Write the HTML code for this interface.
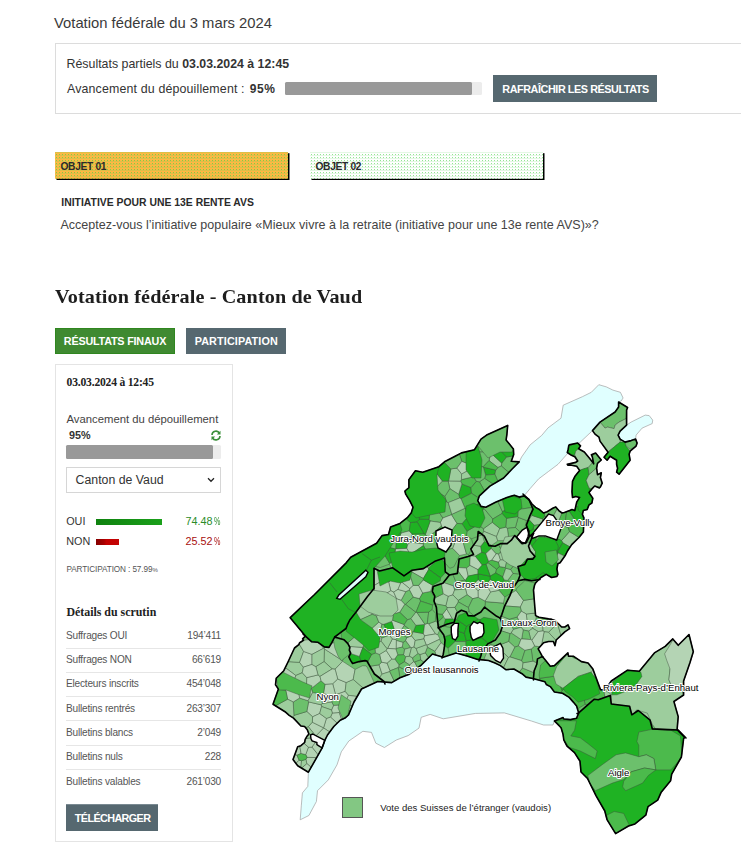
<!DOCTYPE html>
<html><head><meta charset="utf-8">
<style>
*{margin:0;padding:0;box-sizing:border-box}
html,body{width:741px;height:847px;overflow:hidden;background:#fff}
body{position:relative;font-family:"Liberation Sans",sans-serif;color:#333}
.a{position:absolute;white-space:nowrap;line-height:1}
.b{font-weight:bold}
.btn{position:absolute;color:#fff;font-weight:bold;text-align:center;white-space:nowrap}
.dot-y{background-color:#f7b944;background-image:radial-gradient(circle at 1px 1px,#8ccf52 0.9px,transparent 1px);background-size:3px 3px}
.dot-w{background-color:#fff;background-image:radial-gradient(circle at 1px 1px,#a8e2a8 0.9px,transparent 1px);background-size:3px 3px}
.serif{font-family:"Liberation Serif",serif}
.row{position:absolute;left:66px;width:155px;border-bottom:1px solid #e6e6e6;font-size:10.1px;color:#555;height:24px;letter-spacing:-0.2px}
.row span{position:absolute;line-height:1}
</style></head><body>

<!-- header -->
<div class="a" style="left:54px;top:16.2px;font-size:14.8px;color:#3a3a3a">Votation fédérale du 3 mars 2024</div>
<div style="position:absolute;left:55px;top:43px;width:720px;height:71px;border:1px solid #dcdcdc"></div>
<div class="a" style="left:66.5px;top:58.3px;font-size:12.4px;color:#333">Résultats partiels du <span class="b" style="font-size:12.33px">03.03.2024 à 12:45</span></div>
<div class="a" style="left:67px;top:82.5px;font-size:12.4px;color:#333;letter-spacing:0.15px">Avancement du dépouillement :&nbsp;<span class="b" style="font-size:12px;letter-spacing:0.6px;margin-left:1.4px">95%</span></div>
<div style="position:absolute;left:285px;top:82px;width:197px;height:13px;background:#ececec;border-radius:1.5px"></div>
<div style="position:absolute;left:285px;top:82px;width:187px;height:13px;background:#999;border-radius:1.5px"></div>
<div style="position:absolute;left:493px;top:75px;width:164px;height:27px;background:#566870"></div><div class="a b" style="left:502.3px;top:83.86px;font-size:10.8px;color:#fff;letter-spacing:-0.42px">RAFRAÎCHIR LES RÉSULTATS</div>

<!-- tabs -->
<svg style="position:absolute;left:0;top:0" width="741" height="200" viewBox="0 0 741 200">
<defs>
<pattern id="py" width="3" height="3" patternUnits="userSpaceOnUse" x="1" y="0"><rect width="3" height="3" fill="#fdb843"/><rect x="1" y="1" width="1" height="1" fill="#84cc44"/><rect x="0" y="2" width="3" height="1" fill="#dcbf48"/></pattern>
<pattern id="pw" width="3" height="3" patternUnits="userSpaceOnUse" x="1" y="0"><rect width="3" height="3" fill="#fff"/><rect x="1" y="1" width="1" height="1" fill="#92e692"/><rect x="0" y="2" width="3" height="1" fill="#e4f8e4"/></pattern>
<filter id="sh" x="-5%" y="-20%" width="110%" height="140%"><feGaussianBlur stdDeviation="0.4"/></filter>
</defs>
<rect x="56.5" y="153.2" width="233" height="26.8" fill="#000" filter="url(#sh)"/>
<rect x="55" y="152" width="233" height="26.8" fill="url(#py)"/>
<rect x="311.5" y="153.2" width="233" height="26.8" fill="#000" filter="url(#sh)"/>
<rect x="310" y="152" width="233" height="26.8" fill="url(#pw)"/>
</svg>
<div class="a b" style="left:60.5px;top:162.3px;font-size:10.2px;color:#2a2a2a;letter-spacing:-0.3px">OBJET 01</div>
<div class="a b" style="left:315.5px;top:162.3px;font-size:10.2px;color:#2a2a2a;letter-spacing:-0.3px">OBJET 02</div>

<div class="a b" style="left:61.3px;top:198px;font-size:10.4px;color:#2a2a2a">INITIATIVE POUR UNE 13E RENTE AVS</div>
<div class="a" style="left:60.5px;top:219.3px;font-size:12.52px;color:#444">Acceptez-vous l’initiative populaire «Mieux vivre à la retraite (initiative pour une 13e rente AVS)»?</div>

<!-- section title -->
<div class="a b serif" style="left:54.5px;top:286.5px;font-size:19px;color:#1e1e1e;letter-spacing:0.1px;transform:scaleX(1.062);transform-origin:0 0">Votation fédérale - Canton de Vaud</div>
<div style="position:absolute;left:55px;top:328px;width:120px;height:26px;background:#3f8a31;border:1px solid #2f861f"></div><div class="a b" style="left:63.8px;top:335.86px;font-size:10.8px;color:#fff;letter-spacing:-0.2px">RÉSULTATS FINAUX</div>
<div style="position:absolute;left:186px;top:328px;width:100px;height:26px;background:#566870"></div><div class="a b" style="left:194.7px;top:335.86px;font-size:10.8px;color:#fff;letter-spacing:0.12px">PARTICIPATION</div>

<!-- side panel -->
<div style="position:absolute;left:55px;top:364px;width:178px;height:478px;border:1px solid #e4e4e4"></div>
<div class="a b serif" style="left:66.6px;top:377.3px;font-size:11.6px;color:#222;letter-spacing:-0.2px">03.03.2024 à 12:45</div>
<div class="a" style="left:66.5px;top:414.3px;font-size:11.3px;color:#444">Avancement du dépouillement</div>
<div class="a b" style="left:69px;top:430.1px;font-size:10.8px;color:#333">95%</div>
<svg style="position:absolute;left:210px;top:430px" width="12" height="11" viewBox="0 0 12 11"><path d="M2 5 A4 4 0 0 1 9.5 3.2" fill="none" stroke="#3a8f3a" stroke-width="1.6"/><path d="M10.5 0.8 L10.5 4.5 L6.8 4.5 Z" fill="#3a8f3a"/><path d="M10 6 A4 4 0 0 1 2.5 7.8" fill="none" stroke="#3a8f3a" stroke-width="1.6"/><path d="M1.5 10.2 L1.5 6.5 L5.2 6.5 Z" fill="#3a8f3a"/></svg>
<div style="position:absolute;left:66px;top:445px;width:155px;height:14px;background:#ececec;border-radius:1.5px"></div>
<div style="position:absolute;left:66px;top:445px;width:147px;height:14px;background:#999;border-radius:1.5px"></div>
<div style="position:absolute;left:66px;top:467px;width:155px;height:26px;border:1px solid #d6d6d6"></div>
<div class="a" style="left:75.6px;top:473.8px;font-size:12.3px;color:#333">Canton de Vaud</div>
<svg style="position:absolute;left:206.6px;top:477px" width="8" height="6" viewBox="0 0 8 6"><path d="M1 1.3 L4 4.3 L7 1.3" fill="none" stroke="#222" stroke-width="1.25"/></svg>

<div class="a" style="left:66.2px;top:516.3px;font-size:10.8px;color:#333">OUI</div>
<div style="position:absolute;left:96px;top:519px;width:66px;height:6px;background:linear-gradient(90deg,#0f820f,#148f14 45%,#1aa01a)"></div>
<div class="a" style="left:185.5px;top:516.3px;font-size:10.8px;color:#2a8c2a">74.48<span style="display:inline-block;font-size:10px;margin-left:1.2px;transform:scaleX(0.72);transform-origin:0 0">%</span></div>
<div class="a" style="left:66.2px;top:536px;font-size:10.8px;color:#333">NON</div>
<div style="position:absolute;left:96px;top:539px;width:23px;height:6px;background:linear-gradient(90deg,#850000,#a80000 35%,#c20000 45%,#c40404)"></div>
<div class="a" style="left:185.5px;top:536px;font-size:10.8px;color:#a80e0e">25.52<span style="display:inline-block;font-size:10px;margin-left:1.2px;transform:scaleX(0.72);transform-origin:0 0">%</span></div>
<div class="a" style="left:66.4px;top:566px;font-size:8.2px;color:#555;letter-spacing:-0.1px">PARTICIPATION : 57.99<span style="font-size:6px">%</span></div>

<div class="a b serif" style="left:66.4px;top:607px;font-size:11.9px;color:#222">Détails du scrutin</div>
<div class="row" style="top:624.5px"><span style="left:0;top:6.3px">Suffrages OUI</span><span style="right:0;top:6.3px">194’411</span></div>
<div class="row" style="top:648.8px"><span style="left:0;top:6.3px">Suffrages NON</span><span style="right:0;top:6.3px">66’619</span></div>
<div class="row" style="top:673.1px"><span style="left:0;top:6.3px">Electeurs inscrits</span><span style="right:0;top:6.3px">454’048</span></div>
<div class="row" style="top:697.4px"><span style="left:0;top:6.3px">Bulletins rentrés</span><span style="right:0;top:6.3px">263’307</span></div>
<div class="row" style="top:721.7px"><span style="left:0;top:6.3px">Bulletins blancs</span><span style="right:0;top:6.3px">2’049</span></div>
<div class="row" style="top:746px"><span style="left:0;top:6.3px">Bulletins nuls</span><span style="right:0;top:6.3px">228</span></div>
<div class="row" style="top:770.3px;border-bottom:none"><span style="left:0;top:6.3px">Bulletins valables</span><span style="right:0;top:6.3px">261’030</span></div>
<div style="position:absolute;left:66px;top:804px;width:92px;height:27px;background:#566870;border-top:1px solid #7a8a92"></div><div class="a b" style="left:74.8px;top:812.86px;font-size:10.8px;color:#fff;letter-spacing:-0.6px">TÉLÉCHARGER</div>

<!-- MAP -->
<svg id="map" style="position:absolute;left:0;top:0" width="741" height="847" viewBox="0 0 741 847">
<polygon fill="#e0ffff" stroke="#a0a0a0" stroke-width="0.7" points="578.7,712.9 576.6,706.1 573.3,702.1 569.2,697.4 562.5,693.3 554.4,692.0 550.3,686.6 546.3,684.5 545.0,681.8 532.8,678.5 526.0,677.1 522.0,673.7 513.9,669.0 505.8,669.7 500.4,665.6 495.0,663.0 488.5,660.5 477.7,659.4 467.0,656.1 456.1,652.9 443.2,657.2 432.4,654.0 421.6,664.8 408.6,674.5 400.0,677.7 391.7,682.6 377.7,681.5 361.5,689.0 354.0,702.0 348.5,715.0 345.0,718.1 340.2,720.2 333.8,726.5 327.5,735.0 324.8,740.4 322.2,747.8 308.4,772.2 307.8,786.4 302.4,792.9 301.3,805.8 300.2,819.8 308.9,815.5 316.4,801.5 317.5,790.7 328.3,779.9 337.0,764.8 341.3,751.8 348.8,741.0 362.9,731.3 371.5,732.4 375.8,743.2 384.4,747.5 396.3,740.0 408.2,735.6 419.0,728.1 421.2,717.3 430.2,714.4 443.2,718.8 475.6,713.4 504.4,712.9 531.4,721.0 543.6,725.0 553.0,725.0 554.4,721.0 563.1,717.6 563.8,719.0 570.6,719.6 576.6,718.3"/>
<polygon fill="#e0ffff" stroke="#a0a0a0" stroke-width="0.7" points="519.2,461.9 521.6,457.0 530.1,444.9 541.6,435.5 548.0,427.9 561.0,418.2 563.2,405.2 582.6,396.6 591.3,392.3 598.8,384.7 606.4,386.9 612.9,390.1 620.4,392.3 623.1,398.0 621.1,401.0 618.6,402.0 618.6,407.0 615.1,412.0 600.0,422.1 592.5,430.6 580.5,441.9 567.7,453.4 558.0,464.3 548.3,471.6 538.6,478.9 530.1,488.6 524.0,495.9 519.2,497.1 514.3,495.3 506.9,497.5 495.5,502.3 485.8,507.2 481.0,506.4 477.7,500.7 479.4,495.8 489.9,486.1 503.6,478.0 511.9,469.2"/>
<polygon fill="#e0ffff" stroke="#a0a0a0" stroke-width="0.7" points="618.1,435.1 620.1,431.1 626.6,425.1 631.1,422.1 645.2,415.1 649.2,415.6 652.7,420.1 652.2,423.6 642.1,428.1 636.1,435.1 635.6,439.1 630.1,442.1 625.1,442.1 620.1,439.1"/>
<polygon fill="#6cc06c" points="290.2,617.7 314.0,595.0 346.4,562.6 350.7,557.2 376.6,543.2 382.0,535.6 388.5,534.5 390.6,527.0 400.0,523.4 407.3,517.7 411.3,512.8 413.0,507.2 409.7,500.7 405.7,494.2 404.9,491.0 408.9,487.7 408.9,479.6 415.4,470.7 422.7,472.3 438.9,466.7 444.5,461.8 455.1,456.2 461.5,452.9 474.5,449.7 481.0,439.1 486.6,435.1 507.7,425.4 506.9,434.3 506.1,440.0 513.4,448.9 513.7,454.6 511.3,461.3 519.2,461.9 511.9,469.2 503.6,478.0 489.9,486.1 479.4,495.8 477.7,500.7 481.0,506.4 485.8,507.2 495.5,502.3 506.9,497.5 514.3,495.3 519.2,497.1 524.0,495.9 528.9,499.5 532.0,504.0 535.6,507.4 539.8,509.8 543.5,513.0 547.1,511.7 553.2,508.0 555.8,506.9 558.8,510.6 562.0,513.0 564.4,512.5 569.6,510.6 572.0,509.6 574.8,510.6 576.7,502.1 579.6,497.4 575.8,496.4 572.5,497.4 572.0,491.7 572.5,481.3 574.8,476.6 579.6,470.4 576.7,466.2 571.5,465.2 567.8,465.2 567.3,464.3 575.8,462.4 577.7,461.0 574.8,456.7 571.5,455.3 567.3,452.5 568.2,449.2 568.7,445.9 569.2,444.9 577.7,443.0 580.5,445.9 578.6,448.7 584.3,452.0 589.5,458.2 592.8,462.4 593.7,463.8 592.3,456.7 591.4,454.8 595.6,453.0 601.3,460.0 597.5,463.3 596.6,468.1 597.5,474.7 601.3,472.8 600.4,477.5 602.2,483.2 600.4,487.0 599.4,487.9 594.7,486.0 591.9,488.9 589.0,492.6 592.8,498.3 591.9,503.0 589.0,504.9 587.1,509.6 583.3,510.6 582.4,514.4 584.0,518.1 583.4,531.9 579.2,537.2 571.7,544.6 567.5,551.0 565.4,555.2 560.1,562.7 557.9,563.7 556.9,569.0 557.9,574.4 556.9,576.5 551.6,577.5 546.2,574.4 541.0,577.5 537.7,580.7 535.6,582.9 534.6,585.0 533.5,590.0 534.8,606.7 535.6,615.6 538.9,617.2 548.6,618.9 551.9,619.4 555.0,620.5 558.4,623.8 561.6,627.0 564.8,627.0 568.0,624.8 569.6,628.6 564.8,631.8 556.2,640.0 555.0,645.6 553.4,641.5 548.6,641.5 543.6,642.7 538.2,648.8 542.2,656.2 544.9,659.6 550.3,666.3 554.4,665.6 567.9,652.8 568.5,656.2 573.3,656.2 581.4,661.6 588.1,663.0 592.9,669.1 596.1,677.7 600.5,689.6 605.0,690.0 611.3,681.0 627.5,670.2 639.3,671.3 654.4,652.9 665.2,646.4 672.8,638.9 678.2,645.3 689.0,634.5 693.3,651.8 690.0,662.6 683.6,681.0 683.6,695.0 673.9,701.5 678.2,716.6 677.1,729.6 684.7,737.5 683.6,738.6 681.4,757.0 671.7,774.2 670.6,780.7 661.0,792.6 657.7,800.1 648.0,806.6 645.8,815.2 635.0,823.9 628.5,826.0 615.6,833.6 607.0,819.6 604.8,811.0 596.1,795.8 587.5,778.5 581.0,772.0 580.0,761.3 574.5,752.6 567.0,746.1 563.8,740.0 563.1,734.5 561.1,727.7 556.4,723.0 554.4,721.0 563.1,717.6 563.8,719.0 570.6,719.6 576.6,718.3 578.7,712.9 576.6,706.1 573.3,702.1 569.2,697.4 562.5,693.3 554.4,692.0 550.3,686.6 546.3,684.5 545.0,681.8 532.8,678.5 526.0,677.1 522.0,673.7 513.9,669.0 505.8,669.7 500.4,665.6 495.0,663.0 488.5,660.5 477.7,659.4 467.0,656.1 456.1,652.9 443.2,657.2 432.4,654.0 421.6,664.8 408.6,674.5 400.0,677.7 391.7,682.6 377.7,681.5 361.5,689.0 354.0,702.0 348.5,715.0 345.0,718.1 340.2,720.2 333.8,726.5 327.5,735.0 324.8,740.4 322.2,747.8 308.4,772.2 297.7,765.8 293.0,759.5 297.7,746.7 300.9,745.7 304.6,742.5 305.2,739.3 306.8,736.6 308.9,734.0 307.3,729.7 304.6,726.5 300.9,726.0 293.5,718.1 289.2,715.4 285.0,711.7 273.0,704.2 278.4,689.1 275.5,684.8 276.2,678.3 283.8,670.7 288.0,662.0 294.5,648.0 298.8,644.6 299.7,642.7 303.5,640.3 302.6,638.9 305.4,636.1"/>
<polygon fill="#6cc06c" points="618.6,402.0 627.6,407.5 626.6,410.0 626.6,425.1 620.1,431.1 618.1,435.1 620.1,439.1 625.1,442.1 631.1,440.6 635.6,439.1 637.1,443.1 636.1,446.1 630.1,451.2 629.1,454.2 630.1,460.2 619.1,474.2 616.6,472.2 617.6,468.2 616.6,464.2 616.6,460.2 610.1,456.2 607.1,460.2 604.0,457.2 608.1,452.2 600.0,441.1 599.0,437.1 595.0,434.1 592.5,430.6 600.0,422.1 615.1,412.0 618.6,407.0"/>
<g stroke="#3c4c3c" stroke-width="0.55" stroke-opacity="0.8" stroke-linejoin="round">
<polygon fill="#1fb223" points="424.8,508.4 425.8,501.1 420.8,497.4 411.2,503.6 413.0,507.2 412.9,507.6 418.7,511.0 424.8,508.4"/>
<polygon fill="#6cc06c" points="436.9,508.9 429.8,512.3 429.0,519.4 430.2,521.0 440.4,522.5 442.9,518.0 436.9,508.9"/>
<polygon fill="#6cc06c" points="448.3,502.6 446.4,501.6 437.7,505.9 436.9,508.9 442.9,518.0 451.6,514.7 451.8,514.3 448.3,502.6"/>
<polygon fill="#b4d4b4" points="442.9,518.0 440.4,522.5 441.4,526.2 443.1,527.9 445.0,527.0 452.0,530.0 452.0,530.3 457.0,523.4 451.6,514.7 442.9,518.0"/>
<polygon fill="#b4d4b4" points="375.3,566.4 372.9,556.4 359.0,557.1 361.1,569.2 363.9,571.9 365.8,570.2 367.4,571.7 375.3,566.4"/>
<polygon fill="#1fb223" points="471.0,487.5 461.9,483.9 458.6,494.3 459.7,498.0 461.0,498.7 471.5,493.3 471.0,487.5"/>
<polygon fill="#6cc06c" points="452.6,548.2 447.9,549.3 446.0,552.0 443.0,550.5 441.6,550.8 439.7,554.4 440.1,557.4 441.5,559.0 444.5,558.0 444.8,562.7 449.5,568.1 450.4,568.1 453.9,566.8 459.6,555.5 452.6,548.2"/>
<polygon fill="#9dcd9d" points="441.4,526.2 440.4,522.5 430.2,521.0 425.4,534.4 426.7,536.3 429.5,536.5 441.4,526.2"/>
<polygon fill="#9dcd9d" points="402.3,560.9 394.2,560.2 389.7,563.5 389.4,564.2 391.6,568.1 392.7,567.8 402.8,575.0 407.0,572.9 402.3,560.9"/>
<polygon fill="#9dcd9d" points="434.9,489.1 442.5,481.1 433.1,468.7 432.3,469.0 428.0,470.5 427.6,486.1 434.9,489.1"/>
<polygon fill="#6cc06c" points="389.7,563.5 382.3,551.1 373.4,554.9 372.9,556.4 375.3,566.4 380.3,567.5 389.4,564.2 389.7,563.5"/>
<polygon fill="#6cc06c" points="414.2,568.4 423.5,564.7 422.5,559.1 410.4,554.5 410.1,554.5 409.9,554.8 414.2,568.4"/>
<polygon fill="#4cba4c" points="301.4,616.8 294.6,613.5 290.2,617.7 299.9,629.4 301.5,627.8 301.4,616.8"/>
<polygon fill="#4cba4c" points="409.3,530.9 410.5,522.5 406.1,518.7 400.0,523.4 396.3,524.8 401.1,533.1 409.3,530.9"/>
<polygon fill="#9dcd9d" points="501.3,466.0 501.9,463.2 491.8,453.9 490.5,454.0 489.0,460.6 497.9,467.5 501.3,466.0"/>
<polygon fill="#9dcd9d" points="317.0,592.0 322.0,603.1 330.9,601.7 334.0,597.3 331.7,593.1 318.4,590.6 317.0,592.0"/>
<polygon fill="#b4d4b4" points="354.6,580.5 363.9,571.9 361.1,569.2 344.4,569.2 346.5,580.2 354.6,580.5"/>
<polygon fill="#6cc06c" points="520.4,532.3 522.3,530.1 524.7,528.6 526.5,520.5 518.2,517.3 515.4,527.5 520.4,532.3"/>
<polygon fill="#4cba4c" points="518.1,509.6 531.9,507.5 532.2,507.1 528.9,499.5 524.0,495.9 520.1,496.9 516.4,507.2 518.1,509.6"/>
<polygon fill="#9dcd9d" points="483.5,528.7 483.7,531.3 496.5,536.6 499.8,528.4 492.3,522.3 483.5,528.7"/>
<polygon fill="#6cc06c" points="483.5,528.7 478.2,524.6 466.9,531.2 466.5,536.2 471.5,538.8 477.8,536.5 478.2,531.5 482.4,534.7 483.7,531.3 483.5,528.7"/>
<polygon fill="#6cc06c" points="334.0,597.3 330.9,601.7 334.2,612.9 337.0,614.7 346.4,606.7 345.9,603.8 340.0,599.3 340.0,599.3 336.7,598.3 337.3,597.3 334.0,597.3"/>
<polygon fill="#6cc06c" points="518.1,509.6 517.7,516.6 518.2,517.3 526.5,520.5 528.3,519.9 530.1,515.3 531.9,511.6 531.9,507.5 518.1,509.6"/>
<polygon fill="#4cba4c" points="468.2,464.0 475.6,459.7 476.2,452.1 474.2,449.8 461.5,452.9 459.3,454.0 461.8,461.4 468.2,464.0"/>
<polygon fill="#6cc06c" points="320.7,605.3 324.9,614.5 334.2,612.9 330.9,601.7 322.0,603.1 320.7,605.3"/>
<polygon fill="#4cba4c" points="382.3,551.1 383.9,547.3 377.9,541.3 376.6,543.2 369.8,546.9 373.4,554.9 382.3,551.1"/>
<polygon fill="#1fb223" points="495.8,470.1 483.3,467.1 485.6,475.1 494.9,474.3 495.8,470.1"/>
<polygon fill="#4cba4c" points="327.1,627.7 321.3,620.5 312.2,625.9 316.3,635.9 327.1,627.7"/>
<polygon fill="#4cba4c" points="425.4,534.4 424.0,533.7 412.1,534.0 410.4,542.2 423.4,544.0 426.7,536.3 425.4,534.4"/>
<polygon fill="#b4d4b4" points="462.2,538.8 456.1,539.3 452.6,548.2 459.6,555.5 466.5,554.0 462.2,538.8"/>
<polygon fill="#6cc06c" points="505.7,527.2 507.4,528.4 515.4,527.5 518.2,517.3 517.7,516.6 506.5,518.3 505.7,527.2"/>
<polygon fill="#4cba4c" points="441.4,526.2 429.5,536.5 436.1,540.4 436.0,540.0 436.0,531.0 443.1,527.9 441.4,526.2"/>
<polygon fill="#1fb223" points="396.3,538.4 395.6,548.9 406.8,548.4 407.7,544.6 399.7,536.5 396.3,538.4"/>
<polygon fill="#1fb223" points="499.6,449.7 491.8,453.9 501.9,463.2 506.7,457.0 499.6,449.7"/>
<polygon fill="#4cba4c" points="329.7,579.3 324.0,585.0 318.4,590.6 331.7,593.1 333.3,583.5 329.7,579.3"/>
<polygon fill="#1fb223" points="420.6,489.0 418.4,487.8 408.2,488.3 404.9,491.0 405.7,494.2 409.7,500.7 411.2,503.6 420.8,497.4 420.6,489.0"/>
<polygon fill="#1fb223" points="424.0,533.7 425.4,534.4 430.2,521.0 429.0,519.4 419.4,519.0 417.0,521.7 424.0,533.7"/>
<polygon fill="#9dcd9d" points="443.0,550.5 441.3,549.7 441.6,550.8 443.0,550.5"/>
<polygon fill="#9dcd9d" points="452.6,548.2 456.1,539.3 451.7,534.4 451.0,545.0 447.9,549.3 452.6,548.2"/>
<polygon fill="#6cc06c" points="479.4,481.8 484.6,491.0 489.9,486.1 493.3,484.1 484.6,478.3 479.4,481.8"/>
<polygon fill="#6cc06c" points="328.3,628.0 327.1,627.7 316.3,635.9 315.7,638.7 319.8,643.7 324.3,646.9 325.8,647.1 329.6,643.9 328.3,628.0"/>
<polygon fill="#6cc06c" points="451.6,514.7 457.0,523.4 462.1,523.8 468.0,516.9 465.5,508.5 465.0,508.2 451.8,514.3 451.6,514.7"/>
<polygon fill="#4cba4c" points="299.9,629.4 305.4,636.1 309.2,639.6 315.7,638.7 316.3,635.9 312.2,625.9 310.4,625.3 301.5,627.8 299.9,629.4"/>
<polygon fill="#1fb223" points="312.2,625.9 321.3,620.5 321.3,619.3 312.8,613.2 308.9,614.9 310.4,625.3 312.2,625.9"/>
<polygon fill="#1fb223" points="301.4,616.8 301.5,627.8 310.4,625.3 308.9,614.9 307.1,614.3 301.4,616.8"/>
<polygon fill="#4cba4c" points="420.6,489.0 427.6,486.1 428.0,470.5 422.7,472.3 416.2,470.9 418.4,487.8 420.6,489.0"/>
<polygon fill="#4cba4c" points="476.4,481.3 471.0,487.5 471.5,493.3 478.6,498.0 479.4,495.8 484.6,491.0 479.4,481.8 476.4,481.3"/>
<polygon fill="#6cc06c" points="466.5,536.2 462.2,538.8 466.5,554.0 468.8,554.5 471.1,549.7 470.8,549.0 472.9,546.1 473.3,545.1 471.5,538.8 466.5,536.2"/>
<polygon fill="#6cc06c" points="492.8,519.0 483.9,508.3 476.6,519.9 478.2,524.6 483.5,528.7 492.3,522.3 492.8,519.0"/>
<polygon fill="#b4d4b4" points="385.8,546.6 389.8,536.6 388.3,534.5 382.0,535.6 377.9,541.3 383.9,547.3 385.8,546.6"/>
<polygon fill="#4cba4c" points="308.9,614.9 312.8,613.2 314.9,607.4 307.5,601.2 306.3,602.4 303.5,605.0 307.1,614.3 308.9,614.9"/>
<polygon fill="#b4d4b4" points="412.1,534.0 409.3,530.9 401.1,533.1 399.7,536.5 407.7,544.6 410.4,542.2 412.1,534.0"/>
<polygon fill="#6cc06c" points="439.7,554.4 441.6,550.8 441.3,549.7 438.0,548.0 436.1,540.4 429.5,536.5 426.7,536.3 423.4,544.0 423.4,545.6 426.9,551.8 439.7,554.4"/>
<polygon fill="#1fb223" points="307.1,614.3 303.5,605.0 297.2,611.0 294.6,613.5 301.4,616.8 307.1,614.3"/>
<polygon fill="#1fb223" points="314.9,607.4 312.8,613.2 321.3,619.3 324.9,614.5 320.7,605.3 314.9,607.4"/>
<polygon fill="#6cc06c" points="439.7,554.4 426.9,551.8 422.5,559.1 423.5,564.7 426.4,566.7 434.8,561.3 436.6,560.7 440.1,557.4 439.7,554.4"/>
<polygon fill="#b4d4b4" points="423.4,545.6 423.4,544.0 410.4,542.2 407.7,544.6 406.8,548.4 410.1,554.5 410.4,554.5 423.4,545.6"/>
<polygon fill="#4cba4c" points="473.6,476.7 461.4,479.6 460.6,481.1 461.9,483.9 471.0,487.5 476.4,481.3 473.6,476.7"/>
<polygon fill="#9dcd9d" points="469.0,469.8 461.6,473.9 461.4,479.6 473.6,476.7 473.5,473.8 469.0,469.8"/>
<polygon fill="#4cba4c" points="461.0,498.7 465.0,508.2 465.5,508.5 479.5,503.8 477.7,500.7 478.6,498.0 471.5,493.3 461.0,498.7"/>
<polygon fill="#9dcd9d" points="460.6,481.1 448.6,480.9 448.2,481.1 449.8,488.7 458.6,494.3 461.9,483.9 460.6,481.1"/>
<polygon fill="#1fb223" points="410.5,522.5 409.3,530.9 412.1,534.0 424.0,533.7 417.0,521.7 410.5,522.5"/>
<polygon fill="#6cc06c" points="501.9,463.2 501.3,466.0 508.8,472.4 511.9,469.2 519.2,461.9 511.3,461.3 513.2,455.9 506.7,457.0 501.9,463.2"/>
<polygon fill="#9dcd9d" points="497.2,541.5 497.7,540.7 496.5,536.6 483.7,531.3 482.4,534.7 484.3,536.2 487.8,543.2 491.8,545.2 497.2,541.5"/>
<polygon fill="#1fb223" points="337.2,615.3 347.9,623.9 347.9,623.8 349.8,620.0 355.6,612.7 355.4,612.1 346.4,606.7 337.0,614.7 337.2,615.3"/>
<polygon fill="#1fb223" points="513.7,454.6 513.4,448.9 506.8,440.8 501.5,443.1 499.6,449.7 506.7,457.0 513.2,455.9 513.7,454.6"/>
<polygon fill="#1fb223" points="320.7,605.3 322.0,603.1 317.0,592.0 314.0,595.0 307.5,601.2 314.9,607.4 320.7,605.3"/>
<polygon fill="#1fb223" points="478.2,524.6 476.6,519.9 468.0,516.9 462.1,523.8 466.9,531.2 478.2,524.6"/>
<polygon fill="#1fb223" points="367.3,596.7 374.0,588.6 374.0,585.0 365.6,576.9 359.9,581.9 358.2,594.0 364.6,598.9 365.6,599.0 367.3,596.7"/>
<polygon fill="#6cc06c" points="449.8,488.7 444.8,496.4 446.4,501.6 448.3,502.6 459.7,498.0 458.6,494.3 449.8,488.7"/>
<polygon fill="#1fb223" points="429.8,512.3 424.8,508.4 418.7,511.0 419.4,519.0 429.0,519.4 429.8,512.3"/>
<polygon fill="#4cba4c" points="331.9,627.1 340.9,632.4 342.1,631.5 346.9,626.4 347.9,623.9 337.2,615.3 331.9,627.1"/>
<polygon fill="#1fb223" points="468.0,516.9 476.6,519.9 483.9,508.3 483.8,506.9 481.0,506.4 479.5,503.8 465.5,508.5 468.0,516.9"/>
<polygon fill="#6cc06c" points="385.8,546.6 395.4,549.1 395.6,548.9 396.3,538.4 389.8,536.6 385.8,546.6"/>
<polygon fill="#9dcd9d" points="407.0,572.9 408.2,573.0 412.1,570.2 413.0,570.1 414.2,568.4 409.9,554.8 402.3,560.9 407.0,572.9"/>
<polygon fill="#6cc06c" points="497.9,467.5 495.8,470.1 494.9,474.3 497.9,481.4 503.6,478.0 508.8,472.4 501.3,466.0 497.9,467.5"/>
<polygon fill="#1fb223" points="501.5,443.1 506.8,440.8 506.1,440.0 506.9,434.3 507.7,425.4 488.1,434.4 489.0,435.9 501.5,443.1"/>
<polygon fill="#6cc06c" points="515.4,527.5 507.4,528.4 508.8,539.5 512.0,539.2 514.7,535.5 517.5,538.4 516.7,536.7 520.4,532.3 515.4,527.5"/>
<polygon fill="#b4d4b4" points="395.6,548.9 395.4,549.1 394.2,560.2 402.3,560.9 409.9,554.8 410.1,554.5 406.8,548.4 395.6,548.9"/>
<polygon fill="#6cc06c" points="444.8,496.4 449.8,488.7 448.2,481.1 442.5,481.1 434.9,489.1 435.3,490.7 444.8,496.4"/>
<polygon fill="#1fb223" points="426.9,551.8 423.4,545.6 410.4,554.5 422.5,559.1 426.9,551.8"/>
<polygon fill="#9dcd9d" points="496.5,536.6 497.7,540.7 507.9,540.5 508.8,539.5 507.4,528.4 505.7,527.2 499.8,528.4 496.5,536.6"/>
<polygon fill="#9dcd9d" points="457.0,468.1 450.9,468.9 448.6,480.9 460.6,481.1 461.4,479.6 461.6,473.9 457.0,468.1"/>
<polygon fill="#4cba4c" points="485.6,475.1 484.6,478.3 493.3,484.1 497.9,481.4 494.9,474.3 485.6,475.1"/>
<polygon fill="#1fb223" points="349.4,591.1 340.0,599.3 345.9,603.8 353.4,594.4 349.4,591.1"/>
<polygon fill="#1fb223" points="345.4,587.8 341.7,592.4 346.0,588.3 345.4,587.8"/>
<polygon fill="#1fb223" points="516.4,507.2 520.1,496.9 519.2,497.1 514.3,495.3 506.9,497.5 505.8,498.0 514.5,506.8 516.4,507.2"/>
<polygon fill="#6cc06c" points="328.3,628.0 329.6,643.9 331.4,643.4 331.8,642.7 334.7,637.0 338.5,634.2 340.9,632.4 331.9,627.1 328.3,628.0"/>
<polygon fill="#9dcd9d" points="459.7,498.0 448.3,502.6 451.8,514.3 465.0,508.2 461.0,498.7 459.7,498.0"/>
<polygon fill="#6cc06c" points="492.8,519.0 502.2,513.4 502.4,511.5 497.8,501.3 495.5,502.3 485.8,507.2 483.8,506.9 483.9,508.3 492.8,519.0"/>
<polygon fill="#b4d4b4" points="359.9,581.9 349.4,591.1 353.4,594.4 358.2,594.0 359.9,581.9"/>
<polygon fill="#b4d4b4" points="346.5,580.2 344.5,583.7 345.4,587.8 346.0,588.3 354.6,580.5 346.5,580.2"/>
<polygon fill="#1fb223" points="396.3,538.4 399.7,536.5 401.1,533.1 396.3,524.8 390.6,527.0 388.5,534.5 388.3,534.5 389.8,536.6 396.3,538.4"/>
<polygon fill="#4cba4c" points="446.4,501.6 444.8,496.4 435.3,490.7 431.9,499.7 437.7,505.9 446.4,501.6"/>
<polygon fill="#6cc06c" points="486.6,435.1 481.0,439.1 474.5,449.7 474.2,449.8 476.2,452.1 488.0,451.9 489.0,435.9 488.1,434.4 486.6,435.1"/>
<polygon fill="#6cc06c" points="333.3,583.5 331.7,593.1 334.0,597.3 337.3,597.3 338.8,595.0 341.7,592.4 345.4,587.8 344.5,583.7 333.3,583.5"/>
<polygon fill="#4cba4c" points="456.1,539.3 462.2,538.8 466.5,536.2 466.9,531.2 462.1,523.8 457.0,523.4 452.0,530.3 451.7,534.4 456.1,539.3"/>
<polygon fill="#6cc06c" points="436.9,508.9 437.7,505.9 431.9,499.7 425.8,501.1 424.8,508.4 429.8,512.3 436.9,508.9"/>
<polygon fill="#4cba4c" points="475.6,459.7 468.2,464.0 469.0,469.8 473.5,473.8 481.9,466.6 475.6,459.7"/>
<polygon fill="#1fb223" points="334.2,612.9 324.9,614.5 321.3,619.3 321.3,620.5 327.1,627.7 328.3,628.0 331.9,627.1 337.2,615.3 337.0,614.7 334.2,612.9"/>
<polygon fill="#4cba4c" points="435.3,490.7 434.9,489.1 427.6,486.1 420.6,489.0 420.8,497.4 425.8,501.1 431.9,499.7 435.3,490.7"/>
<polygon fill="#1fb223" points="416.2,470.9 415.4,470.7 408.9,479.6 408.9,487.7 408.2,488.3 418.4,487.8 416.2,470.9"/>
<polygon fill="#6cc06c" points="514.5,506.8 505.8,498.0 499.2,500.7 497.8,501.3 502.4,511.5 514.5,506.8"/>
<polygon fill="#4cba4c" points="502.2,513.4 492.8,519.0 492.3,522.3 499.8,528.4 505.7,527.2 506.5,518.3 502.2,513.4"/>
<polygon fill="#6cc06c" points="355.4,612.1 364.6,598.9 358.2,594.0 353.4,594.4 345.9,603.8 346.4,606.7 355.4,612.1"/>
<polygon fill="#6cc06c" points="361.1,569.2 359.0,557.1 356.3,554.2 350.7,557.2 346.4,562.6 342.2,566.8 344.4,569.2 361.1,569.2"/>
<polygon fill="#1fb223" points="448.2,481.1 448.6,480.9 450.9,468.9 444.1,462.1 438.9,466.7 433.1,468.7 442.5,481.1 448.2,481.1"/>
<polygon fill="#6cc06c" points="459.3,454.0 455.1,456.2 444.5,461.8 444.1,462.1 450.9,468.9 457.0,468.1 461.8,461.4 459.3,454.0"/>
<polygon fill="#1fb223" points="395.4,549.1 385.8,546.6 383.9,547.3 382.3,551.1 389.7,563.5 394.2,560.2 395.4,549.1"/>
<polygon fill="#b4d4b4" points="344.5,583.7 346.5,580.2 344.4,569.2 342.2,566.8 329.7,579.3 333.3,583.5 344.5,583.7"/>
<polygon fill="#6cc06c" points="372.9,556.4 373.4,554.9 369.8,546.9 368.8,547.4 356.3,554.2 359.0,557.1 372.9,556.4"/>
<polygon fill="#b4d4b4" points="461.8,461.4 457.0,468.1 461.6,473.9 469.0,469.8 468.2,464.0 461.8,461.4"/>
<polygon fill="#1fb223" points="516.4,507.2 514.5,506.8 502.4,511.5 502.2,513.4 506.5,518.3 517.7,516.6 518.1,509.6 516.4,507.2"/>
<polygon fill="#6cc06c" points="490.5,454.0 488.0,451.9 476.2,452.1 475.6,459.7 481.9,466.6 483.1,466.8 489.0,460.6 490.5,454.0"/>
<polygon fill="#6cc06c" points="485.6,475.1 483.3,467.1 483.1,466.8 481.9,466.6 473.5,473.8 473.6,476.7 476.4,481.3 479.4,481.8 484.6,478.3 485.6,475.1"/>
<polygon fill="#4cba4c" points="497.9,467.5 489.0,460.6 483.1,466.8 483.3,467.1 495.8,470.1 497.9,467.5"/>
<polygon fill="#1fb223" points="417.0,521.7 419.4,519.0 418.7,511.0 412.9,507.6 411.3,512.8 407.3,517.7 406.1,518.7 410.5,522.5 417.0,521.7"/>
<polygon fill="#1fb223" points="501.5,443.1 489.0,435.9 488.0,451.9 490.5,454.0 491.8,453.9 499.6,449.7 501.5,443.1"/>
<polygon fill="#9dcd9d" points="345.2,709.8 350.1,711.1 352.4,705.7 347.3,704.3 345.2,709.8"/>
<polygon fill="#b4d4b4" points="323.6,727.8 323.7,728.0 329.8,732.0 333.8,726.5 337.2,723.1 330.6,717.0 326.4,718.4 323.6,727.8"/>
<polygon fill="#6cc06c" points="335.5,694.6 333.3,695.8 331.7,701.9 333.5,705.5 339.1,705.2 340.8,702.5 335.9,694.7 335.5,694.6"/>
<polygon fill="#b4d4b4" points="337.7,679.0 332.7,683.7 335.5,694.6 335.9,694.7 345.1,691.4 346.2,682.5 337.7,679.0"/>
<polygon fill="#b4d4b4" points="332.3,713.0 330.6,717.0 337.2,723.1 340.2,720.2 341.7,719.6 339.3,712.5 332.3,713.0"/>
<polygon fill="#b4d4b4" points="332.3,713.0 339.3,712.5 341.1,710.2 339.1,705.2 333.5,705.5 331.5,710.0 332.3,713.0"/>
<polygon fill="#b4d4b4" points="306.8,763.6 311.2,767.2 316.7,757.6 307.0,757.3 305.9,759.4 306.8,763.6"/>
<polygon fill="#b4d4b4" points="308.4,747.2 305.7,754.6 307.0,757.3 316.7,757.6 318.2,754.8 312.1,747.1 308.4,747.2"/>
<polygon fill="#b4d4b4" points="323.4,693.9 333.3,695.8 335.5,694.6 332.7,683.7 325.0,684.3 323.4,693.9"/>
<polygon fill="#b4d4b4" points="308.3,726.7 315.3,735.4 316.1,735.8 323.7,728.0 323.6,727.8 312.3,722.2 308.3,726.7"/>
<polygon fill="#9dcd9d" points="346.2,682.5 345.1,691.4 348.3,695.3 357.2,696.5 361.5,689.0 363.3,688.1 353.2,679.4 346.2,682.5"/>
<polygon fill="#b4d4b4" points="301.5,768.1 308.4,772.2 311.2,767.2 306.8,763.6 301.5,768.1"/>
<polygon fill="#9dcd9d" points="321.2,704.8 321.6,706.5 331.5,710.0 333.5,705.5 331.7,701.9 322.0,703.5 321.2,704.8"/>
<polygon fill="#b4d4b4" points="341.1,710.2 339.3,712.5 341.7,719.6 345.0,718.1 346.5,716.8 344.3,710.3 341.1,710.2"/>
<polygon fill="#b4d4b4" points="322.0,703.5 331.7,701.9 333.3,695.8 323.4,693.9 322.8,694.4 322.0,703.5"/>
<polygon fill="#b4d4b4" points="297.7,746.7 294.7,754.8 297.0,755.3 301.1,753.4 299.7,746.1 297.7,746.7"/>
<polygon fill="#9dcd9d" points="308.3,726.7 305.5,727.6 307.3,729.7 308.9,734.0 306.8,736.6 305.6,738.7 310.9,738.0 310.5,735.0 312.6,734.0 315.3,735.4 308.3,726.7"/>
<polygon fill="#b4d4b4" points="308.6,701.9 306.8,711.5 312.6,716.8 319.7,713.5 321.6,706.5 321.2,704.8 308.6,701.9"/>
<polygon fill="#b4d4b4" points="297.0,755.3 294.7,754.8 293.0,759.5 295.9,763.4 299.1,760.2 297.0,755.3"/>
<polygon fill="#b4d4b4" points="316.1,735.8 324.8,740.4 327.5,735.0 329.8,732.0 323.7,728.0 316.1,735.8"/>
<polygon fill="#9dcd9d" points="341.1,710.2 344.3,710.3 345.2,709.8 347.3,704.3 345.5,701.7 340.8,702.5 339.1,705.2 341.1,710.2"/>
<polygon fill="#b4d4b4" points="305.6,738.7 305.2,739.3 304.6,742.5 303.8,743.2 308.4,747.2 312.1,747.1 315.7,742.1 312.1,740.9 311.0,738.8 310.9,738.0 305.6,738.7"/>
<polygon fill="#b4d4b4" points="299.1,760.2 295.9,763.4 297.7,765.8 300.9,767.7 301.5,760.7 299.1,760.2"/>
<polygon fill="#9dcd9d" points="301.5,760.7 300.9,767.7 301.5,768.1 306.8,763.6 305.9,759.4 301.5,760.7"/>
<polygon fill="#4cba4c" points="301.1,753.4 297.0,755.3 299.1,760.2 301.5,760.7 305.9,759.4 307.0,757.3 305.7,754.6 301.1,753.4"/>
<polygon fill="#b4d4b4" points="345.5,701.7 347.3,704.3 352.4,705.7 354.0,702.0 357.2,696.5 348.3,695.3 345.5,701.7"/>
<polygon fill="#b4d4b4" points="312.3,722.2 323.6,727.8 326.4,718.4 319.7,713.5 312.6,716.8 312.3,722.2"/>
<polygon fill="#b4d4b4" points="322.2,747.8 320.0,746.7 316.9,744.6 316.9,742.5 315.7,742.1 312.1,747.1 318.2,754.8 322.2,747.8"/>
<polygon fill="#9dcd9d" points="319.7,713.5 326.4,718.4 330.6,717.0 332.3,713.0 331.5,710.0 321.6,706.5 319.7,713.5"/>
<polygon fill="#b4d4b4" points="340.8,702.5 345.5,701.7 348.3,695.3 345.1,691.4 335.9,694.7 340.8,702.5"/>
<polygon fill="#9dcd9d" points="312.3,722.2 312.6,716.8 306.8,711.5 293.9,715.4 292.5,717.4 293.5,718.1 300.9,726.0 304.6,726.5 305.5,727.6 308.3,726.7 312.3,722.2"/>
<polygon fill="#b4d4b4" points="305.7,754.6 308.4,747.2 303.8,743.2 300.9,745.7 299.7,746.1 301.1,753.4 305.7,754.6"/>
<polygon fill="#6cc06c" points="344.3,710.3 346.5,716.8 348.5,715.0 350.1,711.1 345.2,709.8 344.3,710.3"/>
<polygon fill="#4cba4c" points="311.4,688.4 312.4,692.6 322.8,694.4 323.4,693.9 325.0,684.3 321.0,680.7 311.4,688.4"/>
<polygon fill="#9dcd9d" points="302.3,672.7 303.4,667.2 299.6,662.4 288.2,661.6 288.0,662.0 285.3,667.7 295.8,675.5 302.3,672.7"/>
<polygon fill="#6cc06c" points="299.6,698.0 293.2,702.0 293.9,715.4 306.8,711.5 308.6,701.9 308.0,700.7 299.6,698.0"/>
<polygon fill="#b4d4b4" points="311.4,688.4 321.0,680.7 320.0,676.4 318.0,674.9 306.7,677.6 306.5,684.9 311.4,688.4"/>
<polygon fill="#b4d4b4" points="290.7,685.3 285.8,690.4 287.6,699.2 293.2,702.0 299.6,698.0 298.2,688.2 292.7,684.9 290.7,685.3"/>
<polygon fill="#9dcd9d" points="293.2,702.0 287.6,699.2 275.5,705.8 285.0,711.7 289.2,715.4 292.5,717.4 293.9,715.4 293.2,702.0"/>
<polygon fill="#b4d4b4" points="292.7,684.9 295.8,675.5 285.3,667.7 283.8,670.7 280.0,674.5 290.7,685.3 292.7,684.9"/>
<polygon fill="#9dcd9d" points="299.2,643.9 298.8,644.6 294.5,648.0 288.2,661.6 299.6,662.4 303.6,651.4 299.2,643.9"/>
<polygon fill="#9dcd9d" points="292.7,684.9 298.2,688.2 306.5,684.9 306.7,677.6 302.3,672.7 295.8,675.5 292.7,684.9"/>
<polygon fill="#9dcd9d" points="342.6,661.3 342.5,660.6 324.4,648.9 324.0,661.5 332.2,668.9 335.1,669.2 342.6,661.3"/>
<polygon fill="#b4d4b4" points="312.0,654.4 303.6,651.4 299.6,662.4 303.4,667.2 312.0,664.4 312.0,654.4"/>
<polygon fill="#b4d4b4" points="290.7,685.3 280.0,674.5 276.2,678.3 275.5,684.8 278.4,689.1 278.3,689.4 285.8,690.4 290.7,685.3"/>
<polygon fill="#9dcd9d" points="332.2,668.9 324.0,661.5 315.8,666.6 318.0,674.9 320.0,676.4 332.2,668.9"/>
<polygon fill="#4cba4c" points="285.8,690.4 278.3,689.4 273.0,704.2 275.5,705.8 287.6,699.2 285.8,690.4"/>
<polygon fill="#b4d4b4" points="355.1,669.4 342.6,661.3 335.1,669.2 337.7,679.0 346.2,682.5 353.2,679.4 355.1,669.4"/>
<polygon fill="#9dcd9d" points="322.8,694.4 312.4,692.6 308.0,700.7 308.6,701.9 321.2,704.8 322.0,703.5 322.8,694.4"/>
<polygon fill="#b4d4b4" points="319.8,643.7 317.7,642.2 311.5,641.7 309.2,639.6 303.3,640.4 299.7,642.7 299.2,643.9 303.6,651.4 312.0,654.4 323.5,648.3 319.8,643.7"/>
<polygon fill="#b4d4b4" points="308.0,700.7 312.4,692.6 311.4,688.4 306.5,684.9 298.2,688.2 299.6,698.0 308.0,700.7"/>
<polygon fill="#b4d4b4" points="318.0,674.9 315.8,666.6 312.0,664.4 303.4,667.2 302.3,672.7 306.7,677.6 318.0,674.9"/>
<polygon fill="#9dcd9d" points="324.0,661.5 324.4,648.9 324.2,648.5 323.5,648.3 312.0,654.4 312.0,664.4 315.8,666.6 324.0,661.5"/>
<polygon fill="#b4d4b4" points="335.1,669.2 332.2,668.9 320.0,676.4 321.0,680.7 325.0,684.3 332.7,683.7 337.7,679.0 335.1,669.2"/>
<polygon fill="#b4d4b4" points="324.4,648.9 342.5,660.6 346.6,652.1 347.0,646.2 346.3,644.3 341.7,640.8 331.4,643.4 329.0,647.4 325.8,647.1 324.2,648.5 324.4,648.9"/>
<polygon fill="#9dcd9d" points="365.7,665.9 362.6,665.7 355.1,669.4 353.2,679.4 363.3,688.1 374.4,683.0 367.0,666.8 365.7,665.9"/>
<polygon fill="#b4d4b4" points="404.3,625.5 404.3,624.6 392.5,620.2 391.6,621.4 394.3,629.6 400.8,630.8 404.3,625.5"/>
<polygon fill="#4cba4c" points="407.5,619.6 399.8,612.1 393.3,613.9 392.5,620.2 404.3,624.6 407.5,619.6"/>
<polygon fill="#b4d4b4" points="395.9,649.0 396.3,648.5 396.4,640.5 395.7,639.6 392.4,638.8 387.6,648.4 395.9,649.0"/>
<polygon fill="#4cba4c" points="399.1,665.0 404.6,661.7 405.7,656.7 403.5,654.6 397.7,654.8 394.7,659.0 399.1,665.0"/>
<polygon fill="#9dcd9d" points="415.2,640.5 423.9,638.9 424.6,635.8 423.5,633.6 413.3,631.8 412.8,632.2 411.4,635.9 415.2,640.5"/>
<polygon fill="#9dcd9d" points="369.9,666.3 374.4,674.0 379.4,677.9 382.1,674.1 379.1,664.8 369.9,666.3"/>
<polygon fill="#b4d4b4" points="390.1,670.8 387.1,663.1 381.4,662.2 379.1,664.8 382.1,674.1 389.8,671.6 390.1,670.8"/>
<polygon fill="#1fb223" points="424.6,624.4 415.9,625.3 413.3,631.8 423.5,633.6 424.6,624.4"/>
<polygon fill="#9dcd9d" points="390.1,670.8 398.3,667.6 398.9,666.8 399.1,665.0 394.7,659.0 391.8,659.0 387.1,663.1 390.1,670.8"/>
<polygon fill="#9dcd9d" points="382.1,674.1 379.4,677.9 384.0,681.5 384.2,682.0 391.7,682.6 394.3,681.1 389.8,671.6 382.1,674.1"/>
<polygon fill="#b4d4b4" points="413.7,661.6 409.5,664.9 409.4,667.6 413.3,671.0 417.6,667.8 414.7,662.0 413.7,661.6"/>
<polygon fill="#b4d4b4" points="387.1,663.1 391.8,659.0 386.2,650.4 379.5,654.4 381.4,662.2 387.1,663.1"/>
<polygon fill="#9dcd9d" points="412.5,657.8 409.4,656.1 405.7,656.7 404.6,661.7 409.5,664.9 413.7,661.6 412.5,657.8"/>
<polygon fill="#6cc06c" points="398.9,666.8 398.3,667.6 399.9,677.7 400.0,677.7 405.9,675.5 405.4,670.0 398.9,666.8"/>
<polygon fill="#6cc06c" points="413.3,631.8 415.9,625.3 410.9,618.5 407.5,619.6 404.3,624.6 404.3,625.5 412.8,632.2 413.3,631.8"/>
<polygon fill="#6cc06c" points="404.5,649.3 410.8,647.5 405.7,640.6 402.9,642.4 402.3,647.1 404.5,649.3"/>
<polygon fill="#9dcd9d" points="405.7,656.7 409.4,656.1 411.5,647.7 410.8,647.5 404.5,649.3 403.5,654.6 405.7,656.7"/>
<polygon fill="#6cc06c" points="402.9,642.4 405.7,640.6 406.8,637.7 401.3,633.2 395.7,639.6 396.4,640.5 402.9,642.4"/>
<polygon fill="#6cc06c" points="412.5,657.8 413.7,661.6 414.7,662.0 420.8,659.9 420.1,654.5 418.0,653.4 412.5,657.8"/>
<polygon fill="#b4d4b4" points="414.0,647.1 415.2,640.5 411.4,635.9 406.8,637.7 405.7,640.6 410.8,647.5 411.5,647.7 414.0,647.1"/>
<polygon fill="#9dcd9d" points="420.1,654.5 420.8,659.9 424.0,662.4 428.7,657.7 425.3,652.8 420.1,654.5"/>
<polygon fill="#6cc06c" points="389.8,671.6 394.3,681.1 396.5,679.8 399.9,677.7 398.3,667.6 390.1,670.8 389.8,671.6"/>
<polygon fill="#b4d4b4" points="396.3,648.5 402.3,647.1 402.9,642.4 396.4,640.5 396.3,648.5"/>
<polygon fill="#6cc06c" points="399.1,665.0 398.9,666.8 405.4,670.0 409.4,667.6 409.5,664.9 404.6,661.7 399.1,665.0"/>
<polygon fill="#9dcd9d" points="389.1,635.2 381.8,637.9 381.0,641.1 387.0,648.7 387.6,648.4 392.4,638.8 389.5,635.3 389.1,635.2"/>
<polygon fill="#6cc06c" points="395.9,649.0 397.7,654.8 403.5,654.6 404.5,649.3 402.3,647.1 396.3,648.5 395.9,649.0"/>
<polygon fill="#b4d4b4" points="423.5,633.6 424.6,635.8 435.6,633.9 428.8,623.7 427.3,623.4 424.9,624.2 424.6,624.4 423.5,633.6"/>
<polygon fill="#b4d4b4" points="437.7,634.6 435.6,633.9 424.6,635.8 423.9,638.9 426.1,644.7 426.8,645.3 439.6,639.3 439.6,638.2 437.7,634.6"/>
<polygon fill="#6cc06c" points="406.8,637.7 411.4,635.9 412.8,632.2 404.3,625.5 400.8,630.8 401.3,633.2 406.8,637.7"/>
<polygon fill="#b4d4b4" points="401.3,633.2 400.8,630.8 394.3,629.6 389.5,635.3 392.4,638.8 395.7,639.6 401.3,633.2"/>
<polygon fill="#b4d4b4" points="386.2,650.4 391.8,659.0 394.7,659.0 397.7,654.8 395.9,649.0 387.6,648.4 387.0,648.7 386.2,650.4"/>
<polygon fill="#6cc06c" points="414.7,662.0 417.6,667.8 421.6,664.8 424.0,662.4 420.8,659.9 414.7,662.0"/>
<polygon fill="#6cc06c" points="379.5,654.4 375.5,652.9 371.6,654.4 367.6,662.2 369.9,666.3 379.1,664.8 381.4,662.2 379.5,654.4"/>
<polygon fill="#9dcd9d" points="426.8,645.3 427.4,647.2 434.9,651.4 441.0,642.7 439.6,639.3 426.8,645.3"/>
<polygon fill="#b4d4b4" points="434.9,651.4 435.8,655.0 440.6,656.4 442.4,657.0 443.2,654.5 444.4,647.2 444.5,645.5 441.0,642.7 434.9,651.4"/>
<polygon fill="#6cc06c" points="427.4,647.2 425.3,652.8 428.7,657.7 432.4,654.0 435.8,655.0 434.9,651.4 427.4,647.2"/>
<polygon fill="#9dcd9d" points="412.5,657.8 418.0,653.4 416.1,648.4 414.0,647.1 411.5,647.7 409.4,656.1 412.5,657.8"/>
<polygon fill="#9dcd9d" points="426.1,644.7 416.1,648.4 418.0,653.4 420.1,654.5 425.3,652.8 427.4,647.2 426.8,645.3 426.1,644.7"/>
<polygon fill="#9dcd9d" points="416.1,612.1 415.7,612.2 410.9,618.5 415.9,625.3 424.6,624.4 424.9,624.2 417.0,612.5 416.1,612.1"/>
<polygon fill="#9dcd9d" points="415.2,640.5 414.0,647.1 416.1,648.4 426.1,644.7 423.9,638.9 415.2,640.5"/>
<polygon fill="#b4d4b4" points="423.3,578.5 428.8,569.3 428.5,568.2 426.4,566.7 423.4,568.6 413.0,570.1 411.7,571.9 423.3,578.5"/>
<polygon fill="#6cc06c" points="416.1,612.1 420.6,601.1 419.6,598.6 413.2,597.1 405.4,604.3 415.7,612.2 416.1,612.1"/>
<polygon fill="#b4d4b4" points="400.0,576.5 395.9,575.6 388.7,582.1 390.7,590.7 393.7,592.1 398.0,589.4 401.3,581.8 400.0,576.5"/>
<polygon fill="#9dcd9d" points="358.6,620.5 372.3,614.3 368.9,599.1 365.6,599.0 356.5,611.5 355.6,612.7 357.9,620.5 358.6,620.5"/>
<polygon fill="#b4d4b4" points="379.4,597.1 374.6,595.6 368.9,599.1 372.3,614.3 376.4,616.0 386.9,607.7 379.4,597.1"/>
<polygon fill="#b4d4b4" points="405.4,670.0 405.9,675.5 408.6,674.5 413.3,671.0 409.4,667.6 405.4,670.0"/>
<polygon fill="#6cc06c" points="391.6,568.1 380.9,570.7 382.6,580.5 388.7,582.1 395.9,575.6 391.6,568.1"/>
<polygon fill="#b4d4b4" points="409.5,573.0 408.2,573.0 404.0,575.9 402.8,575.0 400.0,576.5 401.3,581.8 409.8,588.7 413.3,585.4 409.5,573.0"/>
<polygon fill="#b4d4b4" points="419.6,598.6 422.7,593.0 418.7,585.4 413.3,585.4 409.8,588.7 409.4,589.9 413.2,597.1 419.6,598.6"/>
<polygon fill="#6cc06c" points="411.7,571.9 409.5,573.0 413.3,585.4 418.7,585.4 423.4,579.9 423.3,578.5 411.7,571.9"/>
<polygon fill="#1fb223" points="440.6,577.9 445.8,572.2 445.3,571.8 444.8,562.7 441.5,559.0 436.6,560.7 428.5,568.2 428.8,569.3 440.6,577.9"/>
<polygon fill="#4cba4c" points="374.9,644.4 366.5,639.9 365.8,640.2 362.8,647.4 362.8,647.6 371.6,654.4 375.5,652.9 374.9,644.4"/>
<polygon fill="#b4d4b4" points="370.6,629.6 370.9,633.2 379.4,635.2 382.0,624.1 378.8,622.1 370.6,629.6"/>
<polygon fill="#1fb223" points="348.8,656.8 350.7,660.6 352.6,663.5 359.2,661.6 361.1,661.3 359.5,656.4 350.5,653.4 348.8,656.8"/>
<polygon fill="#b4d4b4" points="370.9,633.2 366.5,639.9 374.9,644.4 381.0,641.1 381.8,637.9 379.4,635.2 370.9,633.2"/>
<polygon fill="#6cc06c" points="405.4,604.3 404.7,604.3 399.8,612.1 407.5,619.6 410.9,618.5 415.7,612.2 405.4,604.3"/>
<polygon fill="#b4d4b4" points="393.7,592.1 390.7,590.7 379.4,597.1 386.9,607.7 387.3,607.8 396.7,598.8 393.7,592.1"/>
<polygon fill="#4cba4c" points="358.6,620.5 357.9,620.5 355.3,623.4 357.1,634.6 365.8,640.2 366.5,639.9 370.9,633.2 370.6,629.6 358.6,620.5"/>
<polygon fill="#6cc06c" points="413.2,597.1 409.4,589.9 405.8,591.6 401.1,600.4 404.7,604.3 405.4,604.3 413.2,597.1"/>
<polygon fill="#9dcd9d" points="375.5,652.9 379.5,654.4 386.2,650.4 387.0,648.7 381.0,641.1 374.9,644.4 375.5,652.9"/>
<polygon fill="#4cba4c" points="422.7,593.0 419.6,598.6 420.6,601.1 432.7,605.1 434.0,603.6 434.3,601.8 434.0,601.0 434.6,597.4 430.5,591.4 422.7,593.0"/>
<polygon fill="#6cc06c" points="382.0,624.1 379.4,635.2 381.8,637.9 389.1,635.2 383.8,624.3 382.0,624.1"/>
<polygon fill="#b4d4b4" points="398.0,589.4 393.7,592.1 396.7,598.8 401.1,600.4 405.8,591.6 398.0,589.4"/>
<polygon fill="#b4d4b4" points="382.6,580.5 380.9,570.7 379.5,571.0 374.0,568.3 374.0,585.0 374.4,585.4 382.6,580.5"/>
<polygon fill="#b4d4b4" points="349.3,646.4 349.8,647.4 349.3,650.2 350.7,653.1 350.5,653.4 359.5,656.4 362.8,647.6 362.8,647.4 349.3,646.4"/>
<polygon fill="#b4d4b4" points="374.4,585.4 374.6,595.6 379.4,597.1 390.7,590.7 388.7,582.1 382.6,580.5 374.4,585.4"/>
<polygon fill="#1fb223" points="362.8,647.6 359.5,656.4 361.1,661.3 365.0,660.6 366.9,661.0 367.6,662.2 371.6,654.4 362.8,647.6"/>
<polygon fill="#6cc06c" points="428.7,612.1 417.0,612.5 424.9,624.2 427.3,623.4 428.7,612.1"/>
<polygon fill="#b4d4b4" points="423.4,579.9 418.7,585.4 422.7,593.0 430.5,591.4 432.5,585.2 423.4,579.9"/>
<polygon fill="#9dcd9d" points="435.3,621.3 428.8,623.7 435.6,633.9 437.7,634.6 439.9,629.8 438.4,627.8 437.8,622.7 437.6,622.5 435.3,621.3"/>
<polygon fill="#1fb223" points="391.6,621.4 383.8,624.3 389.1,635.2 389.5,635.3 394.3,629.6 391.6,621.4"/>
<polygon fill="#9dcd9d" points="365.8,640.2 357.1,634.6 347.5,643.2 347.9,643.6 349.3,646.4 362.8,647.4 365.8,640.2"/>
<polygon fill="#6cc06c" points="372.3,614.3 358.6,620.5 370.6,629.6 378.8,622.1 376.4,616.0 372.3,614.3"/>
<polygon fill="#9dcd9d" points="393.3,613.9 387.3,607.8 386.9,607.7 376.4,616.0 378.8,622.1 382.0,624.1 383.8,624.3 391.6,621.4 392.5,620.2 393.3,613.9"/>
<polygon fill="#4cba4c" points="355.3,623.4 348.6,624.5 346.9,626.4 346.0,628.5 342.1,631.5 341.1,632.5 341.6,639.1 344.1,639.8 347.5,643.2 357.1,634.6 355.3,623.4"/>
<polygon fill="#1fb223" points="440.6,577.9 428.8,569.3 423.3,578.5 423.4,579.9 432.5,585.2 440.3,580.8 440.6,577.9"/>
<polygon fill="#b4d4b4" points="396.7,598.8 387.3,607.8 393.3,613.9 399.8,612.1 404.7,604.3 401.1,600.4 396.7,598.8"/>
<polygon fill="#6cc06c" points="428.7,612.1 427.3,623.4 428.8,623.7 435.3,621.3 435.8,613.5 432.1,609.4 428.7,612.1"/>
<polygon fill="#b4d4b4" points="401.3,581.8 398.0,589.4 405.8,591.6 409.4,589.9 409.8,588.7 401.3,581.8"/>
<polygon fill="#4cba4c" points="432.1,609.4 432.7,605.1 420.6,601.1 416.1,612.1 417.0,612.5 428.7,612.1 432.1,609.4"/>
<polygon fill="#6cc06c" points="495.7,573.0 496.5,569.2 488.0,562.6 486.0,564.3 490.2,576.1 495.7,573.0"/>
<polygon fill="#1fb223" points="446.9,624.2 454.2,622.3 454.8,619.9 452.4,618.7 445.5,618.9 443.7,625.5 446.9,624.2"/>
<polygon fill="#6cc06c" points="453.3,585.9 454.6,590.0 465.5,589.0 467.5,584.6 465.5,580.3 464.8,580.1 455.8,581.6 453.3,585.9"/>
<polygon fill="#4cba4c" points="499.4,566.6 496.5,569.2 495.7,573.0 502.8,576.9 505.8,568.2 505.3,567.5 499.4,566.6"/>
<polygon fill="#9dcd9d" points="473.5,545.2 472.9,546.1 471.1,549.7 473.5,554.4 470.1,555.7 470.2,555.8 475.4,556.2 481.8,552.4 480.7,546.2 473.5,545.2"/>
<polygon fill="#4cba4c" points="469.8,565.4 470.2,555.8 470.1,555.7 468.1,556.4 459.1,558.9 458.1,567.5 466.5,568.1 469.8,565.4"/>
<polygon fill="#9dcd9d" points="499.4,566.6 505.3,567.5 506.5,562.4 504.8,559.8 500.4,559.7 498.4,562.1 499.4,566.6"/>
<polygon fill="#6cc06c" points="501.8,614.5 503.5,609.4 504.3,605.8 503.4,603.1 485.4,601.6 484.8,607.3 489.4,610.8 496.7,616.3 499.7,617.8 500.7,617.1 501.8,614.5"/>
<polygon fill="#1fb223" points="480.7,546.2 481.8,552.4 485.8,553.6 491.3,548.5 491.7,545.9 489.0,545.6 487.8,543.2 484.3,541.6 480.7,546.2"/>
<polygon fill="#6cc06c" points="508.9,546.3 506.7,549.0 507.9,555.0 512.1,555.8 514.9,554.0 516.2,550.7 508.9,546.3"/>
<polygon fill="#6cc06c" points="437.8,622.7 440.9,626.7 443.7,625.5 445.5,618.9 443.3,616.9 437.8,622.3 437.8,622.7"/>
<polygon fill="#b4d4b4" points="470.2,555.8 469.8,565.4 478.0,569.7 482.3,565.0 475.4,556.2 470.2,555.8"/>
<polygon fill="#6cc06c" points="507.7,580.4 514.1,586.5 518.0,580.7 520.1,575.3 519.8,574.0 512.9,573.4 507.7,580.4"/>
<polygon fill="#4cba4c" points="504.3,580.0 499.5,585.0 498.9,590.3 504.7,597.0 510.8,593.5 512.6,588.8 514.1,586.5 507.7,580.4 504.3,580.0"/>
<polygon fill="#b4d4b4" points="445.5,618.9 452.4,618.7 446.7,608.9 442.5,614.3 443.3,616.9 445.5,618.9"/>
<polygon fill="#b4d4b4" points="465.5,580.3 468.2,576.1 466.5,568.1 458.1,567.5 457.7,570.8 464.8,580.1 465.5,580.3"/>
<polygon fill="#9dcd9d" points="525.0,559.1 518.8,559.4 515.9,564.1 518.5,566.4 524.5,564.6 525.1,559.3 525.0,559.1"/>
<polygon fill="#6cc06c" points="455.8,581.6 452.9,574.3 449.4,575.0 443.4,582.5 453.3,585.9 455.8,581.6"/>
<polygon fill="#4cba4c" points="437.2,617.2 437.8,622.3 443.3,616.9 442.5,614.3 436.9,613.6 437.2,617.2"/>
<polygon fill="#6cc06c" points="498.6,554.0 500.3,552.7 501.4,550.2 498.6,544.5 495.1,546.3 491.7,545.9 491.3,548.5 496.0,553.8 498.6,554.0"/>
<polygon fill="#1fb223" points="488.0,562.6 488.6,561.2 485.8,553.6 481.8,552.4 475.4,556.2 482.3,565.0 486.0,564.3 488.0,562.6"/>
<polygon fill="#1fb223" points="506.1,556.1 504.8,559.8 506.5,562.4 511.5,561.2 512.1,555.8 507.9,555.0 506.1,556.1"/>
<polygon fill="#6cc06c" points="514.7,564.2 510.6,569.5 512.9,573.4 519.8,574.0 518.0,566.6 518.5,566.4 515.9,564.1 514.7,564.2"/>
<polygon fill="#6cc06c" points="524.9,553.7 528.8,550.1 528.9,547.2 528.5,546.1 526.2,542.7 526.1,542.9 525.3,543.0 525.2,543.3 524.6,543.2 522.1,543.6 520.8,542.1 517.3,550.1 524.9,553.7"/>
<polygon fill="#9dcd9d" points="458.2,600.3 452.8,594.8 448.2,596.2 445.8,605.8 447.0,607.7 455.0,607.4 458.4,602.0 458.2,600.3"/>
<polygon fill="#6cc06c" points="506.1,556.1 507.9,555.0 506.7,549.0 501.4,550.2 500.3,552.7 506.1,556.1"/>
<polygon fill="#1fb223" points="499.5,585.0 504.3,580.0 502.8,576.9 495.7,573.0 490.2,576.1 490.2,576.2 490.1,579.4 499.5,585.0"/>
<polygon fill="#9dcd9d" points="485.1,601.1 485.4,601.6 503.4,603.1 504.7,597.0 498.9,590.3 490.6,591.9 485.1,601.1"/>
<polygon fill="#9dcd9d" points="504.3,580.0 507.7,580.4 512.9,573.4 510.6,569.5 505.8,568.2 502.8,576.9 504.3,580.0"/>
<polygon fill="#9dcd9d" points="511.5,561.2 514.7,564.2 515.9,564.1 518.8,559.4 514.9,554.0 512.1,555.8 511.5,561.2"/>
<polygon fill="#9dcd9d" points="525.0,559.1 524.9,553.7 517.3,550.1 516.2,550.7 514.9,554.0 518.8,559.4 525.0,559.1"/>
<polygon fill="#9dcd9d" points="447.0,607.7 446.7,608.9 452.4,618.7 454.8,619.9 456.6,613.2 457.6,612.6 455.0,607.4 447.0,607.7"/>
<polygon fill="#b4d4b4" points="465.5,589.0 467.0,594.7 472.7,598.7 478.3,597.4 478.2,590.9 472.5,584.9 467.5,584.6 465.5,589.0"/>
<polygon fill="#b4d4b4" points="484.3,584.5 478.2,579.6 472.5,584.9 478.2,590.9 484.3,584.5"/>
<polygon fill="#9dcd9d" points="448.2,596.2 443.3,593.7 434.9,597.9 434.3,601.8 435.1,603.8 445.8,605.8 448.2,596.2"/>
<polygon fill="#6cc06c" points="467.0,594.7 458.2,600.3 458.4,602.0 468.4,607.6 472.7,598.7 467.0,594.7"/>
<polygon fill="#6cc06c" points="480.9,612.0 484.5,607.1 484.8,607.3 485.4,601.6 485.1,601.1 478.3,597.4 472.7,598.7 468.4,607.6 469.0,611.6 474.2,615.9 480.9,612.0"/>
<polygon fill="#6cc06c" points="446.7,608.9 447.0,607.7 445.8,605.8 435.1,603.8 436.4,607.4 436.9,613.6 442.5,614.3 446.7,608.9"/>
<polygon fill="#b4d4b4" points="485.1,601.1 490.6,591.9 486.3,584.4 484.3,584.5 478.2,590.9 478.3,597.4 485.1,601.1"/>
<polygon fill="#6cc06c" points="524.9,553.7 525.0,559.1 525.1,559.3 527.3,559.6 527.5,559.1 532.9,559.1 534.9,556.4 530.2,551.0 528.8,550.1 524.9,553.7"/>
<polygon fill="#6cc06c" points="468.4,607.6 458.4,602.0 455.0,607.4 457.6,612.6 461.4,610.2 466.3,612.0 466.5,612.5 469.0,611.6 468.4,607.6"/>
<polygon fill="#6cc06c" points="506.7,549.0 508.9,546.3 508.3,542.7 507.2,543.6 500.5,543.6 498.6,544.5 501.4,550.2 506.7,549.0"/>
<polygon fill="#4cba4c" points="443.3,593.7 441.4,583.7 433.2,586.4 432.3,591.3 434.8,596.1 434.6,597.4 434.9,597.9 443.3,593.7"/>
<polygon fill="#b4d4b4" points="490.6,591.9 498.9,590.3 499.5,585.0 490.1,579.4 486.3,584.4 490.6,591.9"/>
<polygon fill="#1fb223" points="486.3,584.4 490.1,579.4 490.2,576.2 478.0,573.8 477.9,574.1 478.2,579.6 484.3,584.5 486.3,584.4"/>
<polygon fill="#9dcd9d" points="484.3,541.6 482.3,534.9 477.8,536.5 477.5,539.6 473.5,545.2 480.7,546.2 484.3,541.6"/>
<polygon fill="#b4d4b4" points="448.2,596.2 452.8,594.8 454.6,590.0 453.3,585.9 443.4,582.5 442.9,583.2 441.4,583.7 443.3,593.7 448.2,596.2"/>
<polygon fill="#6cc06c" points="520.8,542.1 518.5,539.5 517.6,538.6 512.0,539.2 511.3,540.2 508.3,542.7 508.9,546.3 516.2,550.7 517.3,550.1 520.8,542.1"/>
<polygon fill="#9dcd9d" points="466.5,568.1 468.2,576.1 477.9,574.1 478.0,573.8 478.0,569.7 469.8,565.4 466.5,568.1"/>
<polygon fill="#6cc06c" points="506.5,562.4 505.3,567.5 505.8,568.2 510.6,569.5 514.7,564.2 511.5,561.2 506.5,562.4"/>
<polygon fill="#6cc06c" points="464.8,580.1 457.7,570.8 457.4,573.4 452.9,574.3 455.8,581.6 464.8,580.1"/>
<polygon fill="#4cba4c" points="496.5,569.2 499.4,566.6 498.4,562.1 491.7,560.1 488.6,561.2 488.0,562.6 496.5,569.2"/>
<polygon fill="#1fb223" points="477.9,574.1 468.2,576.1 465.5,580.3 467.5,584.6 472.5,584.9 478.2,579.6 477.9,574.1"/>
<polygon fill="#b4d4b4" points="491.7,560.1 498.4,562.1 500.4,559.7 498.6,554.0 496.0,553.8 491.7,560.1"/>
<polygon fill="#9dcd9d" points="500.4,559.7 504.8,559.8 506.1,556.1 500.3,552.7 498.6,554.0 500.4,559.7"/>
<polygon fill="#b4d4b4" points="496.0,553.8 491.3,548.5 485.8,553.6 488.6,561.2 491.7,560.1 496.0,553.8"/>
<polygon fill="#1fb223" points="478.0,573.8 490.2,576.2 490.2,576.1 486.0,564.3 482.3,565.0 478.0,569.7 478.0,573.8"/>
<polygon fill="#9dcd9d" points="458.2,600.3 467.0,594.7 465.5,589.0 454.6,590.0 452.8,594.8 458.2,600.3"/>
<polygon fill="#1fb223" points="444.2,636.7 445.0,640.0 444.5,645.5 448.1,648.3 455.2,641.5 453.6,639.0 452.5,638.6 452.1,636.7 450.7,634.5 444.2,636.7"/>
<polygon fill="#1fb223" points="466.3,640.7 464.4,633.3 457.9,631.0 457.9,636.2 455.5,639.8 453.6,639.0 455.2,641.5 465.7,641.6 466.3,640.7"/>
<polygon fill="#1fb223" points="450.7,634.5 452.1,636.7 451.3,632.6 450.7,634.5"/>
<polygon fill="#1fb223" points="456.7,619.3 455.2,620.1 453.6,624.1 454.3,623.4 458.5,623.4 457.9,630.1 457.9,631.0 464.4,633.3 466.6,626.4 456.7,619.3"/>
<polygon fill="#1fb223" points="456.7,619.3 466.6,626.4 473.1,622.4 473.7,621.6 474.1,621.8 478.3,619.2 474.2,615.9 474.0,616.0 468.1,615.6 466.5,612.5 458.9,615.2 456.7,619.3"/>
<polygon fill="#6cc06c" points="451.3,632.6 451.3,632.5 451.3,627.7 443.6,626.2 441.2,627.1 439.9,629.8 443.8,635.1 444.2,636.7 450.7,634.5 451.3,632.6"/>
<polygon fill="#1fb223" points="497.0,619.8 483.8,617.3 480.2,619.5 480.4,622.5 483.4,624.0 484.0,632.5 482.2,636.2 481.5,636.5 481.6,637.8 488.5,643.5 492.2,641.6 498.9,630.0 497.0,619.8"/>
<polygon fill="#1fb223" points="476.4,638.8 473.1,640.4 472.6,639.5 466.3,640.7 465.7,641.6 466.1,655.8 467.0,656.1 477.7,659.4 479.5,659.6 480.9,655.7 482.1,650.9 488.2,643.6 488.5,643.5 481.6,637.8 476.4,638.8"/>
<polygon fill="#6cc06c" points="455.2,641.5 448.1,648.3 449.3,655.2 456.1,652.9 466.1,655.8 465.7,641.6 455.2,641.5"/>
<polygon fill="#1fb223" points="481.5,636.5 478.0,638.0 476.4,638.8 481.6,637.8 481.5,636.5"/>
<polygon fill="#1fb223" points="480.2,619.5 478.3,619.2 474.1,621.8 477.4,623.4 479.8,622.2 480.4,622.5 480.2,619.5"/>
<polygon fill="#1fb223" points="466.6,626.4 464.4,633.3 466.3,640.7 472.6,639.5 471.3,637.4 470.1,631.3 470.1,626.4 473.1,622.4 466.6,626.4"/>
<polygon fill="#9dcd9d" points="543.1,630.9 542.9,626.7 535.8,620.4 532.1,623.8 532.7,628.3 538.1,631.6 543.1,630.9"/>
<polygon fill="#b4d4b4" points="523.5,600.4 516.1,590.4 510.8,593.5 509.9,595.6 504.8,605.9 520.3,607.1 523.5,600.4"/>
<polygon fill="#6cc06c" points="509.9,633.6 508.6,641.4 514.8,647.1 518.5,645.9 520.9,639.4 511.3,632.9 509.9,633.6"/>
<polygon fill="#9dcd9d" points="528.7,631.1 532.7,628.3 532.1,623.8 527.1,622.2 521.6,625.9 521.2,627.2 523.2,630.0 528.7,631.1"/>
<polygon fill="#9dcd9d" points="503.2,652.4 503.5,658.0 500.4,662.9 495.6,660.4 490.7,655.6 489.5,649.5 495.6,645.9 495.8,645.8 490.6,644.4 489.9,644.6 483.7,660.0 488.5,660.5 495.0,663.0 500.4,665.6 503.4,667.9 508.5,657.5 503.2,652.4"/>
<polygon fill="#6cc06c" points="518.5,645.9 514.8,647.1 509.9,656.9 521.7,660.7 525.0,650.4 518.5,645.9"/>
<polygon fill="#9dcd9d" points="508.6,641.4 500.9,644.4 502.9,648.3 503.2,652.4 508.5,657.5 509.9,656.9 514.8,647.1 508.6,641.4"/>
<polygon fill="#6cc06c" points="537.5,658.9 541.6,656.9 542.8,657.0 542.2,656.2 538.2,648.8 540.1,646.7 534.6,646.0 531.2,649.1 532.9,661.1 536.9,663.1 537.5,658.9"/>
<polygon fill="#9dcd9d" points="556.2,640.0 561.0,635.5 557.4,623.2 548.5,632.3 556.1,640.6 556.2,640.0"/>
<polygon fill="#9dcd9d" points="557.4,623.2 557.5,622.9 555.0,620.5 551.9,619.4 548.6,618.9 547.7,618.7 542.9,626.7 543.1,630.9 544.1,631.7 548.5,632.3 557.4,623.2"/>
<polygon fill="#9dcd9d" points="544.1,631.7 541.5,645.1 543.6,642.7 548.6,641.5 553.4,641.5 555.0,645.6 556.1,640.6 548.5,632.3 544.1,631.7"/>
<polygon fill="#6cc06c" points="519.3,672.1 522.0,673.7 526.0,677.1 532.8,678.5 533.5,678.7 533.5,677.8 534.0,672.7 522.4,667.9 519.3,672.1"/>
<polygon fill="#9dcd9d" points="536.6,616.1 535.6,615.6 535.4,613.0 526.3,614.0 527.1,622.2 532.1,623.8 535.8,620.4 536.6,616.1"/>
<polygon fill="#9dcd9d" points="535.4,613.0 534.8,606.7 534.2,598.8 523.5,600.4 520.3,607.1 521.3,611.2 526.3,614.0 535.4,613.0"/>
<polygon fill="#6cc06c" points="517.2,617.0 509.3,619.2 513.3,629.5 521.2,627.2 521.6,625.9 517.2,617.0"/>
<polygon fill="#9dcd9d" points="511.3,632.9 513.3,629.5 509.3,619.2 501.9,616.3 500.7,617.1 500.3,618.1 502.7,625.4 501.0,630.7 509.9,633.6 511.3,632.9"/>
<polygon fill="#6cc06c" points="509.3,619.2 517.2,617.0 521.3,611.2 520.3,607.1 504.8,605.9 504.5,606.4 503.5,609.4 501.9,616.3 509.3,619.2"/>
<polygon fill="#b4d4b4" points="526.3,614.0 521.3,611.2 517.2,617.0 521.6,625.9 527.1,622.2 526.3,614.0"/>
<polygon fill="#6cc06c" points="524.9,580.6 516.4,588.7 516.1,590.4 523.5,600.4 534.2,598.8 533.5,590.0 534.6,585.0 535.4,583.3 535.2,583.1 524.9,580.6"/>
<polygon fill="#9dcd9d" points="508.5,657.5 503.4,667.9 505.8,669.7 513.9,669.0 519.3,672.1 522.4,667.9 523.1,662.8 521.7,660.7 509.9,656.9 508.5,657.5"/>
<polygon fill="#9dcd9d" points="530.8,639.6 531.9,640.3 538.1,631.6 532.7,628.3 528.7,631.1 530.8,639.6"/>
<polygon fill="#6cc06c" points="530.8,639.6 528.7,631.1 523.2,630.0 521.7,638.9 530.8,639.6"/>
<polygon fill="#6cc06c" points="542.9,626.7 547.7,618.7 538.9,617.2 536.6,616.1 535.8,620.4 542.9,626.7"/>
<polygon fill="#6cc06c" points="500.3,632.7 495.4,640.0 492.2,641.6 490.6,644.4 495.8,645.8 500.4,643.4 500.9,644.4 508.6,641.4 509.9,633.6 501.0,630.7 500.3,632.7"/>
<polygon fill="#b4d4b4" points="540.1,646.7 540.4,646.3 541.5,645.1 544.1,631.7 543.1,630.9 538.1,631.6 531.9,640.3 534.6,646.0 540.1,646.7"/>
<polygon fill="#9dcd9d" points="511.3,632.9 520.9,639.4 521.7,638.9 523.2,630.0 521.2,627.2 513.3,629.5 511.3,632.9"/>
<polygon fill="#9dcd9d" points="534.0,672.7 534.1,671.0 536.8,664.3 536.9,663.1 532.9,661.1 523.1,662.8 522.4,667.9 534.0,672.7"/>
<polygon fill="#9dcd9d" points="561.0,635.5 564.8,631.8 569.6,628.6 568.0,624.8 564.8,627.0 561.6,627.0 558.4,623.8 557.5,622.9 557.4,623.2 561.0,635.5"/>
<polygon fill="#b4d4b4" points="520.9,639.4 518.5,645.9 525.0,650.4 531.2,649.1 534.6,646.0 531.9,640.3 530.8,639.6 521.7,638.9 520.9,639.4"/>
<polygon fill="#6cc06c" points="532.9,661.1 531.2,649.1 525.0,650.4 521.7,660.7 523.1,662.8 532.9,661.1"/>
<polygon fill="#1fb223" points="580.1,488.5 577.9,497.0 579.6,497.4 578.9,498.5 591.8,496.8 589.0,492.6 589.3,492.3 582.5,487.3 580.1,488.5"/>
<polygon fill="#9dcd9d" points="561.6,540.5 562.7,542.8 570.1,547.0 571.7,544.6 579.0,537.4 569.5,531.6 561.6,540.5"/>
<polygon fill="#6cc06c" points="546.4,516.7 548.6,514.0 553.4,515.6 553.5,515.8 557.3,508.7 555.8,506.9 553.2,508.0 547.1,511.7 544.5,512.6 544.6,516.4 546.4,516.7"/>
<polygon fill="#6cc06c" points="584.5,480.6 584.6,480.8 590.7,480.8 594.0,475.9 589.3,470.0 584.6,469.7 583.1,471.7 584.5,480.6"/>
<polygon fill="#9dcd9d" points="611.9,428.7 611.8,422.6 604.8,418.9 600.0,422.1 599.2,423.0 607.6,431.4 611.9,428.7"/>
<polygon fill="#9dcd9d" points="524.8,564.5 524.5,564.6 523.8,570.1 535.6,566.4 535.7,560.6 527.3,559.6 524.8,564.5"/>
<polygon fill="#9dcd9d" points="593.7,465.3 592.2,461.6 591.3,460.5 587.5,458.1 583.8,467.0 584.6,469.7 589.3,470.0 593.7,465.3"/>
<polygon fill="#1fb223" points="583.9,521.2 584.0,518.1 582.4,514.4 583.3,510.6 583.9,510.4 576.0,505.3 574.8,510.6 572.0,509.6 569.6,510.6 568.9,510.9 575.6,520.9 583.9,521.2"/>
<polygon fill="#4cba4c" points="548.4,566.2 546.9,569.2 549.4,576.2 551.6,577.5 556.9,576.5 557.9,574.4 556.9,569.0 557.7,565.0 555.2,563.7 548.4,566.2"/>
<polygon fill="#9dcd9d" points="610.1,456.2 613.6,458.3 618.8,450.4 616.7,444.8 605.6,448.7 608.1,452.2 604.1,457.1 604.3,457.5 607.1,460.2 610.1,456.2"/>
<polygon fill="#9dcd9d" points="617.0,443.9 606.7,434.7 599.6,439.3 600.0,441.1 605.6,448.7 616.7,444.8 617.0,443.9"/>
<polygon fill="#1fb223" points="547.2,555.3 554.4,558.6 558.3,553.1 557.8,551.4 547.9,547.5 547.6,547.5 547.2,555.3"/>
<polygon fill="#1fb223" points="584.6,469.7 583.8,467.0 576.1,462.2 575.8,462.4 567.3,464.3 567.8,465.2 571.5,465.2 576.7,466.2 579.6,470.4 578.2,472.3 583.1,471.7 584.6,469.7"/>
<polygon fill="#1fb223" points="540.3,547.5 536.9,544.8 528.9,546.7 528.9,547.2 530.2,551.0 530.2,551.0 536.0,554.9 540.3,547.5"/>
<polygon fill="#1fb223" points="597.5,463.3 601.3,460.0 598.9,457.0 593.0,460.3 593.7,463.8 592.8,462.4 592.2,461.6 593.7,465.3 597.0,466.0 597.5,463.3"/>
<polygon fill="#4cba4c" points="533.2,528.8 535.1,530.6 540.3,524.2 534.1,525.2 533.2,528.8"/>
<polygon fill="#9dcd9d" points="617.4,417.2 611.8,422.6 611.9,428.7 620.5,430.7 621.6,429.7 622.0,429.3 618.1,417.5 617.4,417.2"/>
<polygon fill="#6cc06c" points="607.6,431.4 606.7,434.7 617.0,443.9 621.3,439.8 620.1,439.1 618.1,435.1 620.1,431.1 620.5,430.7 611.9,428.7 607.6,431.4"/>
<polygon fill="#6cc06c" points="568.4,527.9 564.8,526.0 560.5,525.6 561.5,527.0 557.2,538.6 557.2,538.7 561.6,540.5 569.5,531.6 568.4,527.9"/>
<polygon fill="#1fb223" points="537.4,568.9 535.7,580.1 538.8,579.7 541.0,577.5 546.2,574.4 549.4,576.2 546.9,569.2 537.4,568.9"/>
<polygon fill="#4cba4c" points="622.0,429.3 626.6,425.1 626.6,415.6 618.1,417.5 622.0,429.3"/>
<polygon fill="#b4d4b4" points="576.7,502.1 576.0,505.3 583.9,510.4 587.1,509.6 589.0,504.9 591.9,503.0 592.8,498.3 591.8,496.8 578.9,498.5 576.7,502.1"/>
<polygon fill="#6cc06c" points="544.3,535.9 546.3,546.7 547.6,547.5 547.9,547.5 556.1,539.8 545.3,535.9 544.3,535.9 544.3,535.9"/>
<polygon fill="#4cba4c" points="564.8,526.0 566.6,511.7 564.4,512.5 562.0,513.0 561.9,512.9 558.1,522.3 560.5,525.6 564.8,526.0"/>
<polygon fill="#6cc06c" points="584.3,452.0 578.6,448.7 580.5,445.9 577.7,443.0 569.2,444.9 568.7,445.9 568.2,449.2 567.3,452.5 571.5,455.3 574.8,456.7 575.9,458.3 585.2,453.1 584.3,452.0"/>
<polygon fill="#9dcd9d" points="547.2,555.3 547.6,547.5 546.3,546.7 540.3,547.5 536.0,554.9 536.7,559.1 544.2,558.8 547.2,555.3"/>
<polygon fill="#9dcd9d" points="561.9,512.9 558.8,510.6 557.3,508.7 553.5,515.8 558.1,522.3 561.9,512.9"/>
<polygon fill="#1fb223" points="538.1,536.2 534.2,537.6 536.1,537.8 538.1,536.2"/>
<polygon fill="#1fb223" points="533.2,528.8 528.9,531.6 528.6,533.1 529.5,536.2 531.8,534.6 535.1,530.6 533.2,528.8"/>
<polygon fill="#6cc06c" points="600.9,474.7 601.3,472.8 597.5,474.7 596.6,468.1 597.0,466.0 593.7,465.3 589.3,470.0 594.0,475.9 600.9,474.7"/>
<polygon fill="#4cba4c" points="568.4,527.9 575.6,520.9 568.9,510.9 567.4,511.4 566.6,511.7 564.8,526.0 568.4,527.9"/>
<polygon fill="#6cc06c" points="616.6,464.2 617.6,468.2 616.6,472.2 619.1,474.2 630.1,460.2 629.8,458.1 616.6,463.4 616.6,464.2"/>
<polygon fill="#1fb223" points="523.3,570.7 522.6,574.3 524.5,579.5 524.8,579.4 531.5,580.7 535.7,580.1 537.4,568.9 535.6,566.4 523.8,570.1 523.3,570.7"/>
<polygon fill="#4cba4c" points="569.5,531.6 579.0,537.4 579.2,537.2 583.4,531.9 583.9,521.2 575.6,520.9 568.4,527.9 569.5,531.6"/>
<polygon fill="#1fb223" points="536.9,544.8 536.1,537.8 534.2,537.6 532.4,538.3 531.9,537.6 531.0,540.0 528.5,546.0 528.5,546.1 528.9,546.7 536.9,544.8"/>
<polygon fill="#4cba4c" points="536.7,559.1 535.7,560.6 535.6,566.4 537.4,568.9 546.9,569.2 548.4,566.2 544.2,558.8 536.7,559.1"/>
<polygon fill="#1fb223" points="614.4,412.5 608.2,416.6 604.8,418.9 611.8,422.6 617.4,417.2 614.4,412.5"/>
<polygon fill="#1fb223" points="594.7,486.0 599.4,487.9 600.4,487.0 602.2,483.2 600.4,477.5 600.9,474.7 594.0,475.9 590.7,480.8 594.2,486.6 594.7,486.0"/>
<polygon fill="#6cc06c" points="572.3,485.2 580.1,488.5 582.5,487.3 584.6,480.8 584.5,480.6 573.5,479.3 572.5,481.3 572.3,485.2"/>
<polygon fill="#1fb223" points="554.4,558.6 547.2,555.3 544.2,558.8 548.4,566.2 555.2,563.7 554.4,558.6"/>
<polygon fill="#1fb223" points="557.2,538.7 556.7,540.0 556.1,539.8 547.9,547.5 557.8,551.4 562.7,542.8 561.6,540.5 557.2,538.7 557.2,538.7"/>
<polygon fill="#9dcd9d" points="531.9,515.4 529.0,519.7 534.1,525.2 540.3,524.2 542.6,521.4 542.7,519.0 531.9,515.4"/>
<polygon fill="#1fb223" points="589.3,492.3 591.9,488.9 594.2,486.6 590.7,480.8 584.6,480.8 582.5,487.3 589.3,492.3"/>
<polygon fill="#1fb223" points="534.1,525.2 529.0,519.7 528.3,519.9 526.4,525.0 527.0,527.2 527.1,527.2 529.0,531.0 528.9,531.6 533.2,528.8 534.1,525.2"/>
<polygon fill="#9dcd9d" points="616.7,444.8 618.8,450.4 629.5,456.7 629.1,454.2 630.1,451.2 636.1,446.1 637.1,443.1 635.6,439.1 631.1,440.6 625.1,442.1 621.3,439.8 617.0,443.9 616.7,444.8"/>
<polygon fill="#1fb223" points="544.5,512.6 543.5,513.0 539.8,509.8 535.6,507.4 533.4,505.3 532.2,507.1 533.1,509.2 531.9,511.6 531.9,515.4 542.7,519.0 544.6,516.4 544.5,512.6"/>
<polygon fill="#6cc06c" points="546.3,546.7 544.3,535.9 544.2,535.9 538.9,535.9 538.1,536.2 536.1,537.8 536.9,544.8 540.3,547.5 546.3,546.7"/>
<polygon fill="#9dcd9d" points="613.6,458.3 616.6,460.2 616.6,463.4 629.8,458.1 629.5,456.7 618.8,450.4 613.6,458.3"/>
<polygon fill="#1fb223" points="557.8,551.4 558.3,553.1 564.7,556.2 565.4,555.2 567.5,551.0 570.1,547.0 562.7,542.8 557.8,551.4"/>
<polygon fill="#4cba4c" points="572.3,485.2 572.0,491.7 572.5,497.4 575.8,496.4 577.9,497.0 580.1,488.5 572.3,485.2"/>
<polygon fill="#9dcd9d" points="607.6,431.4 599.2,423.0 592.5,430.6 595.0,434.1 599.0,437.1 599.6,439.3 606.7,434.7 607.6,431.4"/>
<polygon fill="#6cc06c" points="544.6,516.4 542.7,519.0 542.6,521.4 546.4,516.7 544.6,516.4"/>
<polygon fill="#4cba4c" points="583.1,471.7 578.2,472.3 574.8,476.6 573.5,479.3 584.5,480.6 583.1,471.7"/>
<polygon fill="#1fb223" points="587.5,458.1 585.6,453.5 585.2,453.1 575.9,458.3 577.7,461.0 576.1,462.2 583.8,467.0 587.5,458.1"/>
<polygon fill="#4cba4c" points="618.1,417.5 626.6,415.6 626.6,410.0 627.6,407.5 618.6,402.0 618.6,407.0 615.1,412.0 614.4,412.5 617.4,417.2 618.1,417.5"/>
<polygon fill="#4cba4c" points="591.3,460.5 589.5,458.2 585.6,453.5 587.5,458.1 591.3,460.5"/>
<polygon fill="#4cba4c" points="595.6,453.0 591.4,454.8 592.3,456.7 593.0,460.3 598.9,457.0 595.6,453.0"/>
<polygon fill="#9dcd9d" points="557.7,565.0 557.9,563.7 560.1,562.7 564.7,556.2 558.3,553.1 554.4,558.6 555.2,563.7 557.7,565.0"/>
<polygon fill="#1fb223" points="642.7,697.0 643.5,696.6 653.0,677.8 642.9,666.9 639.3,671.3 627.5,670.2 624.5,672.2 627.9,687.5 642.7,697.0"/>
<polygon fill="#4cba4c" points="594.0,699.3 598.3,699.7 602.3,698.3 604.8,696.6 603.9,689.9 600.5,689.6 596.1,677.7 595.5,676.2 581.4,683.4 585.0,704.4 588.0,704.6 594.0,699.3"/>
<polygon fill="#9dcd9d" points="686.6,672.4 690.0,662.6 693.3,651.8 689.0,634.5 678.2,645.3 672.8,638.9 665.2,646.4 664.8,646.6 671.8,668.0 686.6,672.4"/>
<polygon fill="#9dcd9d" points="605.7,697.0 610.2,695.4 610.7,699.2 613.5,700.4 627.9,687.5 624.5,672.2 611.3,681.0 605.0,690.0 603.9,689.9 604.8,696.6 605.7,697.0"/>
<polygon fill="#4cba4c" points="562.5,693.3 569.2,697.4 573.3,702.1 576.6,706.1 577.5,708.9 585.0,704.4 581.4,683.4 576.0,681.6 562.0,690.4 560.8,693.0 562.5,693.3"/>
<polygon fill="#4cba4c" points="556.6,675.9 539.6,678.3 538.9,680.2 545.0,681.8 546.3,684.5 550.3,686.6 554.4,692.0 560.8,693.0 562.0,690.4 556.6,675.9"/>
<polygon fill="#9dcd9d" points="627.9,687.5 613.5,700.4 615.8,704.5 629.6,706.2 631.4,713.2 633.4,713.7 635.5,712.4 642.7,697.0 627.9,687.5"/>
<polygon fill="#b4d4b4" points="595.5,676.2 592.9,669.1 588.1,663.0 581.4,661.6 579.1,660.1 571.9,671.3 576.0,681.6 581.4,683.4 595.5,676.2"/>
<polygon fill="#1fb223" points="573.3,656.2 568.5,656.2 567.9,652.8 557.3,662.9 560.1,669.2 571.9,671.3 579.1,660.1 573.3,656.2"/>
<polygon fill="#b4d4b4" points="659.1,677.7 671.8,668.0 664.8,646.6 654.4,652.9 642.9,666.9 653.0,677.8 659.1,677.7"/>
<polygon fill="#9dcd9d" points="678.2,716.6 673.9,701.5 680.2,697.3 671.9,696.7 660.7,703.8 660.4,726.7 677.3,727.6 678.2,716.6"/>
<polygon fill="#4cba4c" points="680.2,697.3 683.6,695.0 683.6,681.0 686.6,672.4 671.8,668.0 659.1,677.7 671.9,696.7 680.2,697.3"/>
<polygon fill="#9dcd9d" points="660.4,726.7 660.7,703.8 643.5,696.6 642.7,697.0 635.5,712.4 638.3,710.5 650.1,720.2 651.1,724.3 658.6,727.7 660.4,726.7"/>
<polygon fill="#4cba4c" points="539.1,674.8 539.6,678.3 556.6,675.9 560.1,669.2 557.3,662.9 554.4,665.6 550.3,666.3 545.6,660.4 540.6,665.0 539.1,674.8"/>
<polygon fill="#1fb223" points="571.9,671.3 560.1,669.2 556.6,675.9 562.0,690.4 576.0,681.6 571.9,671.3"/>
<polygon fill="#9dcd9d" points="671.9,696.7 659.1,677.7 653.0,677.8 643.5,696.6 660.7,703.8 671.9,696.7"/>
<polygon fill="#1fb223" points="611.3,704.0 610.7,699.2 605.7,697.0 602.3,698.3 592.3,704.8 604.3,728.8 604.5,728.8 618.7,709.7 615.8,704.5 611.3,704.0"/>
<polygon fill="#1fb223" points="648.8,767.6 670.2,781.2 670.6,780.7 671.7,774.2 680.9,757.8 654.1,751.8 648.8,767.6"/>
<polygon fill="#1fb223" points="645.8,815.2 648.0,806.6 657.7,800.1 657.8,799.8 634.8,782.3 623.0,795.6 637.2,822.1 645.8,815.2"/>
<polygon fill="#4cba4c" points="596.4,734.5 604.3,728.8 592.3,704.8 588.0,704.6 578.7,712.9 576.8,717.7 581.8,729.7 596.4,734.5"/>
<polygon fill="#4cba4c" points="596.4,796.4 604.8,811.0 607.0,819.6 615.6,833.6 628.5,826.0 635.0,823.9 637.2,822.1 623.0,795.6 596.4,796.4"/>
<polygon fill="#1fb223" points="648.8,767.6 654.1,751.8 651.7,746.3 626.4,743.7 619.6,761.0 635.3,775.8 648.8,767.6"/>
<polygon fill="#1fb223" points="604.5,728.8 624.8,739.5 636.1,717.5 634.7,714.1 633.4,713.7 631.8,714.8 631.4,713.2 618.7,709.7 604.5,728.8"/>
<polygon fill="#1fb223" points="654.1,751.8 680.9,757.8 681.4,757.0 683.6,738.6 684.7,737.5 677.5,730.0 667.4,729.6 658.1,729.2 651.7,746.3 654.1,751.8"/>
<polygon fill="#1fb223" points="635.3,775.8 634.8,782.3 657.8,799.8 661.0,792.6 670.2,781.2 648.8,767.6 635.3,775.8"/>
<polygon fill="#4cba4c" points="576.8,717.7 576.6,718.3 570.6,719.6 563.8,719.0 563.1,717.6 554.4,721.0 556.4,723.0 561.1,727.7 563.1,734.5 563.8,740.0 565.9,744.0 581.8,729.7 576.8,717.7"/>
<polygon fill="#1fb223" points="596.4,734.5 581.8,729.7 565.9,744.0 567.0,746.1 574.5,752.6 579.0,759.7 594.6,752.7 596.4,734.5"/>
<polygon fill="#1fb223" points="634.8,782.3 635.3,775.8 619.6,761.0 610.4,763.1 595.4,794.3 596.1,795.8 596.4,796.4 623.0,795.6 634.8,782.3"/>
<polygon fill="#4cba4c" points="596.4,734.5 594.6,752.7 610.4,763.1 619.6,761.0 626.4,743.7 624.8,739.5 604.5,728.8 604.3,728.8 596.4,734.5"/>
<polygon fill="#1fb223" points="624.8,739.5 626.4,743.7 651.7,746.3 658.1,729.2 652.3,728.9 651.1,724.3 636.1,717.5 624.8,739.5"/>
<polygon fill="#1fb223" points="594.6,752.7 579.0,759.7 580.0,761.3 581.0,772.0 587.5,778.5 595.4,794.3 610.4,763.1 594.6,752.7"/>
<polygon fill="#1fb223" points="305.4,636.1 311.5,641.7 317.7,642.2 324.3,646.9 329.0,647.4 331.8,642.7 334.7,637.0 338.5,634.2 346.0,628.5 347.9,623.8 349.8,620.0 356.5,611.5 367.3,596.7 374.0,588.6 374.0,568.3 385.0,556.0 392.0,545.0 402.0,530.0 400.0,523.4 390.6,527.0 388.5,534.5 382.0,535.6 376.6,543.2 350.7,557.2 346.4,562.6 314.0,595.0 290.2,617.7 305.4,636.1"/>
<polygon fill="#1fb223" points="408.9,487.7 404.9,491.0 405.7,494.2 409.7,500.7 413.0,507.2 411.3,512.8 416.0,518.0 430.0,515.0 445.0,512.0 446.0,500.0 438.0,490.0 437.0,475.0 438.9,466.7 422.7,472.3 415.4,470.7 408.9,479.6 408.9,487.7"/>
<polygon fill="#1fb223" points="466.0,470.0 472.0,478.0 481.0,478.0 482.0,460.0 478.0,446.0 474.5,449.7 466.0,452.0 466.0,470.0"/>
<polygon fill="#6cc06c" points="478.0,446.0 488.0,458.0 500.0,452.0 512.0,452.0 513.4,448.9 506.1,440.0 506.9,434.3 507.7,425.4 486.6,435.1 481.0,439.1 474.5,449.7 478.0,446.0"/>
<polygon fill="#1fb223" points="346.2,624.8 346.2,631.3 354.3,637.7 362.4,644.2 368.9,650.7 378.6,647.4 380.2,637.7 372.1,628.0 360.8,619.9 355.9,611.8 346.2,624.8"/>
<polygon fill="#1fb223" points="380.0,586.0 390.0,581.0 400.0,583.0 410.0,580.0 412.1,570.2 404.0,575.9 392.7,567.8 381.0,571.3 377.0,569.5 380.0,586.0"/>
<polygon fill="#9dcd9d" points="360.0,606.0 368.0,612.0 380.0,616.0 392.0,616.0 398.0,610.0 396.0,598.0 386.0,592.0 372.0,590.0 359.0,594.0 360.0,606.0"/>
<polygon fill="#4cba4c" points="277.9,688.3 278.4,689.1 278.1,690.0 278.1,690.0 286.2,690.0 299.1,694.8 309.7,698.0 310.5,691.5 312.1,685.9 302.4,681.8 291.0,676.2 282.6,671.9 277.7,676.8 276.5,678.6 277.9,688.3"/>
<polygon fill="#6cc06c" points="334.8,647.8 338.0,655.9 341.3,660.8 349.4,654.3 350.2,646.2 342.9,639.7 333.2,638.1 334.8,647.8"/>
<polygon fill="#6cc06c" points="338.0,708.0 342.9,719.0 343.2,718.9 347.2,716.1 347.7,715.7 351.0,701.3 341.3,694.8 338.0,708.0"/>
<polygon fill="#9dcd9d" points="610.6,703.4 617.0,705.6 625.7,709.9 632.2,715.3 636.5,709.9 647.3,713.1 652.7,725.0 656.0,729.3 673.2,729.3 677.1,729.6 678.2,716.6 673.9,701.5 683.6,695.0 681.8,690.5 673.2,690.5 668.9,679.7 670.0,668.9 678.0,645.0 672.8,638.9 665.2,646.4 654.4,652.9 639.3,671.3 627.5,670.2 611.3,681.0 605.0,690.0 611.7,694.8 610.6,703.4"/>
<polygon fill="#b4d4b4" points="666.7,660.2 670.0,668.9 668.9,679.7 673.2,690.5 681.8,690.5 683.6,681.0 690.0,662.6 693.3,651.8 689.0,634.5 678.2,645.3 673.2,639.7 664.6,653.8 666.7,660.2"/>
<polygon fill="#1fb223" points="611.7,694.8 617.0,694.8 627.9,690.5 636.5,684.0 641.9,676.4 640.8,672.1 631.3,670.6 627.6,670.2 612.7,681.8 611.7,694.8"/>
<polygon fill="#9dcd9d" points="556.0,684.0 563.0,688.3 578.2,676.4 591.1,672.1 593.3,670.0 593.2,669.9 587.1,662.8 581.4,661.6 578.4,659.6 573.9,658.1 571.0,656.2 568.5,656.2 568.2,654.3 567.4,653.8 556.6,666.7 553.4,675.3 556.0,684.0"/>
<polygon fill="#1fb223" points="565.2,691.5 572.8,697.0 578.2,702.3 589.0,699.1 599.8,693.7 596.5,679.7 591.1,672.1 578.2,676.4 563.0,688.3 565.2,691.5"/>
<polygon fill="#1fb223" points="556.4,723.0 561.1,727.7 563.1,734.5 563.8,740.0 567.0,746.1 574.5,752.6 580.0,761.3 581.0,772.0 587.5,778.5 596.1,795.8 604.8,811.0 607.0,819.6 615.6,833.6 628.5,826.0 635.0,823.9 645.8,815.2 648.0,806.6 657.7,800.1 661.0,792.6 670.6,780.7 671.7,774.2 681.4,757.0 683.6,738.6 684.7,737.5 677.5,730.0 667.4,729.6 652.3,728.9 650.1,720.2 638.3,710.5 631.8,714.8 629.6,706.2 611.3,704.0 610.2,695.4 598.3,699.7 594.0,699.3 578.7,712.9 578.9,718.0 576.6,718.2 576.6,718.3 570.6,719.6 566.0,719.2 556.9,720.0 555.3,720.6 556.4,723.0"/>
<polygon fill="#4cba4c" points="636.9,741.6 638.8,745.3 638.8,756.7 646.4,754.8 653.9,758.6 655.8,769.9 670.9,769.9 680.4,758.9 681.4,757.0 681.9,753.0 680.4,735.9 670.9,730.2 652.0,729.3 638.8,732.1 636.9,741.6"/>
<polygon fill="#6cc06c" points="589.6,782.7 590.0,783.5 595.3,790.7 612.3,783.1 623.7,779.4 631.2,771.8 644.5,768.0 655.8,769.9 653.9,758.6 646.4,754.8 638.8,756.7 625.6,752.9 616.1,754.8 602.9,764.2 587.8,775.6 589.6,782.7"/>
<polygon fill="#4cba4c" points="622.7,786.9 625.6,790.7 642.6,783.1 648.2,775.6 655.8,769.9 644.5,768.0 631.2,771.8 623.7,781.2 622.7,786.9"/>
<polygon fill="#4cba4c" points="607.9,821.0 613.6,830.4 616.1,833.2 622.0,829.8 628.5,826.0 629.0,825.9 629.4,825.6 623.7,813.4 614.2,811.5 606.7,815.2 607.9,821.0"/>
<polygon fill="#4cba4c" points="559.4,724.6 560.0,726.6 561.1,727.7 563.1,734.5 563.6,738.5 568.9,747.2 580.2,751.0 587.8,754.8 595.3,758.6 597.2,751.0 587.8,743.5 580.2,737.8 570.8,735.9 574.6,730.2 576.4,720.8 555.7,720.8 559.4,724.6"/>
<polygon fill="#6cc06c" points="618.6,407.0 615.1,412.0 600.0,422.1 605.0,428.1 607.6,427.1 614.1,428.6 615.1,425.1 619.1,422.1 626.1,418.6 626.6,410.0 627.6,407.5 618.6,402.0 618.6,407.0"/>
<polygon fill="#9dcd9d" points="595.0,434.1 599.0,437.1 600.0,441.1 608.1,452.2 609.0,451.2 620.1,442.1 620.1,439.1 618.1,435.1 620.1,431.1 626.6,425.1 626.1,418.6 619.1,422.1 615.1,425.1 614.1,428.6 607.6,427.1 605.0,428.1 600.0,422.1 592.5,430.6 595.0,434.1"/>
<polygon fill="#1fb223" points="608.1,452.2 604.0,457.2 607.1,460.2 610.1,456.2 616.6,460.2 616.6,464.2 617.6,468.2 616.6,472.2 619.1,474.2 630.1,460.2 629.1,454.2 630.1,451.2 626.1,446.1 625.1,442.1 620.1,442.1 609.0,451.2 608.1,452.2"/>
<polygon fill="#6cc06c" points="626.1,446.1 630.1,449.2 636.1,446.1 637.1,443.1 635.6,439.1 631.1,440.6 625.1,442.1 626.1,446.1"/>
<polygon fill="#1fb223" points="571.5,455.3 574.8,454.8 575.8,451.1 578.6,448.7 580.5,445.9 577.7,443.0 568.7,445.9 568.2,449.2 567.3,452.5 571.5,455.3"/>
<polygon fill="#9dcd9d" points="577.7,461.0 575.8,462.4 567.3,464.3 571.5,465.2 576.7,466.2 579.6,470.4 583.3,469.0 589.0,467.1 592.8,462.4 589.5,458.2 584.3,452.0 578.6,448.7 575.8,451.1 574.8,454.8 577.7,461.0"/>
<polygon fill="#1fb223" points="574.8,476.6 572.5,481.3 572.0,491.7 572.5,497.4 575.8,496.4 579.6,497.4 576.7,502.1 578.6,510.6 582.4,514.4 583.3,510.6 587.1,509.6 589.0,504.9 591.9,503.0 592.8,498.3 590.9,495.5 590.9,495.4 589.0,492.6 589.9,491.5 589.0,487.9 586.2,480.4 589.0,474.7 588.1,467.6 583.3,469.0 579.6,470.4 574.8,476.6"/>
<polygon fill="#6cc06c" points="589.0,474.7 596.6,468.1 597.5,463.3 601.3,460.0 595.6,453.0 592.2,456.5 592.3,456.7 593.7,463.8 592.8,462.4 588.1,467.6 589.0,474.7"/>
<polygon fill="#9dcd9d" points="586.2,480.4 589.0,487.9 591.9,488.9 594.7,486.0 600.4,487.0 602.2,483.2 600.4,477.5 601.3,472.8 597.5,474.7 596.6,468.1 589.0,474.7 586.2,480.4"/>
<polygon fill="#1fb223" points="392.7,567.8 404.0,575.9 412.1,570.2 423.4,568.6 434.8,561.3 444.5,558.0 445.0,551.5 442.0,550.0 436.0,548.0 425.0,549.0 412.0,552.0 400.0,551.0 389.0,553.0 392.7,567.8"/>
<polygon fill="#9dcd9d" points="500.0,550.0 503.0,560.0 510.0,565.0 518.6,568.8 526.1,563.1 526.1,559.3 534.6,557.4 535.6,551.7 531.8,546.1 529.0,542.3 525.5,542.7 525.2,543.3 523.6,542.9 520.5,543.2 514.8,535.7 505.0,537.0 500.0,550.0"/>
<polygon fill="#1fb223" points="520.5,574.5 526.1,580.1 535.6,578.3 543.1,572.6 546.1,574.5 546.2,574.4 551.3,577.3 556.4,576.4 557.5,572.1 556.9,569.0 557.6,565.3 556.4,559.5 558.3,546.1 554.9,539.3 551.9,538.3 539.3,536.7 531.8,546.1 535.6,551.8 534.6,557.5 526.1,559.5 518.6,568.1 520.5,574.5"/>
<polygon fill="#4cba4c" points="546.0,562.0 552.0,566.0 558.3,560.0 556.4,550.0 545.0,552.0 546.0,562.0"/>
<polygon fill="#1fb223" points="465.0,516.0 470.0,526.0 480.0,528.0 485.0,518.0 482.0,508.0 474.0,503.0 466.0,506.0 465.0,516.0"/>
<polygon fill="#1fb223" points="505.0,512.0 515.0,514.0 522.0,508.0 521.0,499.0 512.0,496.0 511.8,496.0 506.9,497.5 502.3,499.4 505.0,512.0"/>
<polyline fill="none" points="329.5,582.5 337.0,592.0"/>
<polyline fill="none" points="341.7,599.4 348.4,608.8 355.2,612.2"/>
<polyline fill="none" points="362.0,553.5 371.4,560.2 366.0,571.0"/>
<polyline fill="none" points="371.4,560.2 380.0,557.0"/>
</g>
<polygon fill="#fff" stroke="#000" stroke-width="1.4" points="436.0,531.0 445.0,527.0 452.0,530.0 451.0,545.0 446.0,552.0 438.0,548.0 436.0,540.0"/>
<polygon fill="#fff" stroke="#000" stroke-width="1.4" points="516.7,536.7 522.3,530.1 527.1,527.2 529.0,531.0 528.0,536.7 525.2,543.3 521.4,542.3 517.6,538.6"/>
<polygon fill="#fff" stroke="#000" stroke-width="1.4" points="530.8,535.9 548.6,514.0 553.4,515.6 561.5,527.0 556.7,540.0 545.3,535.9 538.9,535.9 532.4,538.3"/>
<polygon fill="#fff" stroke="#000" stroke-width="1.4" points="451.3,626.4 454.3,623.4 458.5,623.4 457.9,630.1 457.9,636.2 455.5,639.8 452.5,638.6 451.3,632.5"/>
<polygon fill="#fff" stroke="#000" stroke-width="1.4" points="470.1,626.4 473.7,621.6 477.4,623.4 479.8,622.2 483.4,624.0 484.0,632.5 482.2,636.2 478.0,638.0 473.1,640.4 471.3,637.4 470.1,631.3"/>
<polygon fill="#fff" stroke="#000" stroke-width="1.4" points="489.5,649.5 495.6,645.9 500.4,643.4 502.9,648.3 503.5,658.0 500.4,662.9 495.6,660.4 490.7,655.6"/>
<polygon fill="#fff" stroke="#000" stroke-width="1.4" points="310.5,735.0 312.6,734.0 324.8,740.4 322.2,747.8 320.0,746.7 316.9,744.6 316.9,742.5 312.1,740.9 311.0,738.8"/>
<polygon fill="#e0ffff" stroke="#000" stroke-width="1.4" points="336.7,598.3 338.8,595.0 365.8,570.2 368.0,572.3 365.8,576.7 340.0,599.3"/>
<g fill="none" stroke="#000" stroke-width="1.6" stroke-linejoin="round" stroke-linecap="round">
<polyline points="303.0,634.0 305.4,636.1 311.5,641.7 317.7,642.2 324.3,646.9 329.0,647.4 331.8,642.7 334.7,637.0"/>
<polyline points="334.7,637.0 338.5,634.2 346.0,628.5 347.9,623.8 349.8,620.0 356.5,611.5 367.3,596.7 374.0,588.6 374.0,568.3 379.5,571.0 392.7,567.8 404.0,575.9 412.1,570.2 423.4,568.6 434.8,561.3 444.5,558.0 445.3,571.8 449.4,575.0"/>
<polyline points="334.7,637.0 344.1,639.8 347.9,643.6 349.8,647.4 349.3,650.2 350.7,653.1 348.8,656.8 350.7,660.6 352.6,663.5 359.2,661.6 365.0,660.6 366.9,661.0 374.4,674.0 384.0,681.5 385.0,684.0"/>
<polyline points="449.4,575.0 442.9,583.2 433.2,586.4 432.3,591.3 434.8,596.1 434.0,601.0 436.4,607.4 437.2,617.2 438.4,627.8"/>
<polyline points="449.4,575.0 457.4,573.4 459.1,558.9 468.1,556.4 473.5,554.4 470.8,549.0 477.5,539.6 478.2,531.5 484.3,536.2 489.0,545.6 495.1,546.3 500.5,543.6 507.2,543.6 511.3,540.2 514.7,535.5 518.0,538.9 522.1,543.6 526.1,542.9 529.5,536.2 533.5,533.5"/>
<polyline points="523.0,494.0 528.9,499.5 533.1,509.2 530.1,515.3 526.4,525.0 529.5,536.2"/>
<polyline points="533.5,533.5 531.0,540.0 528.5,546.0 530.2,551.0 534.9,556.4 532.9,559.1 527.5,559.1 524.8,564.5 518.0,566.6 520.1,575.3 518.0,580.7 512.6,588.8 509.9,595.6 504.5,606.4 501.8,614.5 500.3,618.1"/>
<polyline points="518.0,580.7 524.8,579.4 531.5,580.7 540.0,579.5"/>
<polyline points="438.4,627.8 446.9,624.2 454.2,622.3 456.6,613.2 461.4,610.2 466.3,612.0 468.1,615.6 474.0,616.0 480.9,612.0 484.5,607.1 489.4,610.8 496.7,616.3 500.3,618.1"/>
<polyline points="500.3,618.1 502.7,625.4 500.3,632.7 495.4,640.0 488.2,643.6 482.1,650.9 480.9,655.7 479.0,661.0"/>
<polyline points="438.4,627.8 443.8,635.1 445.0,640.0 444.4,647.2 443.2,654.5 442.0,658.0"/>
<polyline points="533.5,680.0 533.5,677.8 534.1,671.0 536.8,664.3 537.5,658.9 541.6,656.9 543.0,657.0"/>
<polyline points="577.0,713.5 578.7,712.9 594.0,699.3 598.3,699.7 610.2,695.4 611.3,704.0 629.6,706.2 631.8,714.8 638.3,710.5 650.1,720.2 652.3,728.9 667.4,729.6 678.2,730.0 686.0,738.0"/>
<polygon points="290.2,617.7 314.0,595.0 346.4,562.6 350.7,557.2 376.6,543.2 382.0,535.6 388.5,534.5 390.6,527.0 400.0,523.4 407.3,517.7 411.3,512.8 413.0,507.2 409.7,500.7 405.7,494.2 404.9,491.0 408.9,487.7 408.9,479.6 415.4,470.7 422.7,472.3 438.9,466.7 444.5,461.8 455.1,456.2 461.5,452.9 474.5,449.7 481.0,439.1 486.6,435.1 507.7,425.4 506.9,434.3 506.1,440.0 513.4,448.9 513.7,454.6 511.3,461.3 519.2,461.9 511.9,469.2 503.6,478.0 489.9,486.1 479.4,495.8 477.7,500.7 481.0,506.4 485.8,507.2 495.5,502.3 506.9,497.5 514.3,495.3 519.2,497.1 524.0,495.9 528.9,499.5 532.0,504.0 535.6,507.4 539.8,509.8 543.5,513.0 547.1,511.7 553.2,508.0 555.8,506.9 558.8,510.6 562.0,513.0 564.4,512.5 569.6,510.6 572.0,509.6 574.8,510.6 576.7,502.1 579.6,497.4 575.8,496.4 572.5,497.4 572.0,491.7 572.5,481.3 574.8,476.6 579.6,470.4 576.7,466.2 571.5,465.2 567.8,465.2 567.3,464.3 575.8,462.4 577.7,461.0 574.8,456.7 571.5,455.3 567.3,452.5 568.2,449.2 568.7,445.9 569.2,444.9 577.7,443.0 580.5,445.9 578.6,448.7 584.3,452.0 589.5,458.2 592.8,462.4 593.7,463.8 592.3,456.7 591.4,454.8 595.6,453.0 601.3,460.0 597.5,463.3 596.6,468.1 597.5,474.7 601.3,472.8 600.4,477.5 602.2,483.2 600.4,487.0 599.4,487.9 594.7,486.0 591.9,488.9 589.0,492.6 592.8,498.3 591.9,503.0 589.0,504.9 587.1,509.6 583.3,510.6 582.4,514.4 584.0,518.1 583.4,531.9 579.2,537.2 571.7,544.6 567.5,551.0 565.4,555.2 560.1,562.7 557.9,563.7 556.9,569.0 557.9,574.4 556.9,576.5 551.6,577.5 546.2,574.4 541.0,577.5 537.7,580.7 535.6,582.9 534.6,585.0 533.5,590.0 534.8,606.7 535.6,615.6 538.9,617.2 548.6,618.9 551.9,619.4 555.0,620.5 558.4,623.8 561.6,627.0 564.8,627.0 568.0,624.8 569.6,628.6 564.8,631.8 556.2,640.0 555.0,645.6 553.4,641.5 548.6,641.5 543.6,642.7 538.2,648.8 542.2,656.2 544.9,659.6 550.3,666.3 554.4,665.6 567.9,652.8 568.5,656.2 573.3,656.2 581.4,661.6 588.1,663.0 592.9,669.1 596.1,677.7 600.5,689.6 605.0,690.0 611.3,681.0 627.5,670.2 639.3,671.3 654.4,652.9 665.2,646.4 672.8,638.9 678.2,645.3 689.0,634.5 693.3,651.8 690.0,662.6 683.6,681.0 683.6,695.0 673.9,701.5 678.2,716.6 677.1,729.6 684.7,737.5 683.6,738.6 681.4,757.0 671.7,774.2 670.6,780.7 661.0,792.6 657.7,800.1 648.0,806.6 645.8,815.2 635.0,823.9 628.5,826.0 615.6,833.6 607.0,819.6 604.8,811.0 596.1,795.8 587.5,778.5 581.0,772.0 580.0,761.3 574.5,752.6 567.0,746.1 563.8,740.0 563.1,734.5 561.1,727.7 556.4,723.0 554.4,721.0 563.1,717.6 563.8,719.0 570.6,719.6 576.6,718.3 578.7,712.9 576.6,706.1 573.3,702.1 569.2,697.4 562.5,693.3 554.4,692.0 550.3,686.6 546.3,684.5 545.0,681.8 532.8,678.5 526.0,677.1 522.0,673.7 513.9,669.0 505.8,669.7 500.4,665.6 495.0,663.0 488.5,660.5 477.7,659.4 467.0,656.1 456.1,652.9 443.2,657.2 432.4,654.0 421.6,664.8 408.6,674.5 400.0,677.7 391.7,682.6 377.7,681.5 361.5,689.0 354.0,702.0 348.5,715.0 345.0,718.1 340.2,720.2 333.8,726.5 327.5,735.0 324.8,740.4 322.2,747.8 308.4,772.2 297.7,765.8 293.0,759.5 297.7,746.7 300.9,745.7 304.6,742.5 305.2,739.3 306.8,736.6 308.9,734.0 307.3,729.7 304.6,726.5 300.9,726.0 293.5,718.1 289.2,715.4 285.0,711.7 273.0,704.2 278.4,689.1 275.5,684.8 276.2,678.3 283.8,670.7 288.0,662.0 294.5,648.0 298.8,644.6 299.7,642.7 303.5,640.3 302.6,638.9 305.4,636.1"/>
<polygon points="618.6,402.0 627.6,407.5 626.6,410.0 626.6,425.1 620.1,431.1 618.1,435.1 620.1,439.1 625.1,442.1 631.1,440.6 635.6,439.1 637.1,443.1 636.1,446.1 630.1,451.2 629.1,454.2 630.1,460.2 619.1,474.2 616.6,472.2 617.6,468.2 616.6,464.2 616.6,460.2 610.1,456.2 607.1,460.2 604.0,457.2 608.1,452.2 600.0,441.1 599.0,437.1 595.0,434.1 592.5,430.6 600.0,422.1 615.1,412.0 618.6,407.0"/>
</g>
<g font-family="Liberation Sans, sans-serif" font-size="9.6" fill="#000" stroke="#fff" stroke-width="2" stroke-linejoin="round" paint-order="stroke">
<text x="390.2" y="541.5">Jura-Nord vaudois</text>
<text x="545.5" y="525.5">Broye-Vully</text>
<text x="454.5" y="587.5">Gros-de-Vaud</text>
<text x="501.5" y="625.5">Lavaux-Oron</text>
<text x="378.5" y="634.5">Morges</text>
<text x="457" y="651.5">Lausanne</text>
<text x="404.5" y="672.5">Ouest lausannois</text>
<text x="603" y="691">Riviera-Pays-d’Enhaut</text>
<text x="316.5" y="699.5">Nyon</text>
<text x="608" y="776">Aigle</text>
</g>
<rect x="342.5" y="797.5" width="20" height="20" fill="#83c783" stroke="#555" stroke-width="1"/>
<text x="380.2" y="811.2" font-family="Liberation Sans, sans-serif" font-size="9.55" fill="#222">Vote des Suisses de l’étranger (vaudois)</text>
</svg>

</body></html>
